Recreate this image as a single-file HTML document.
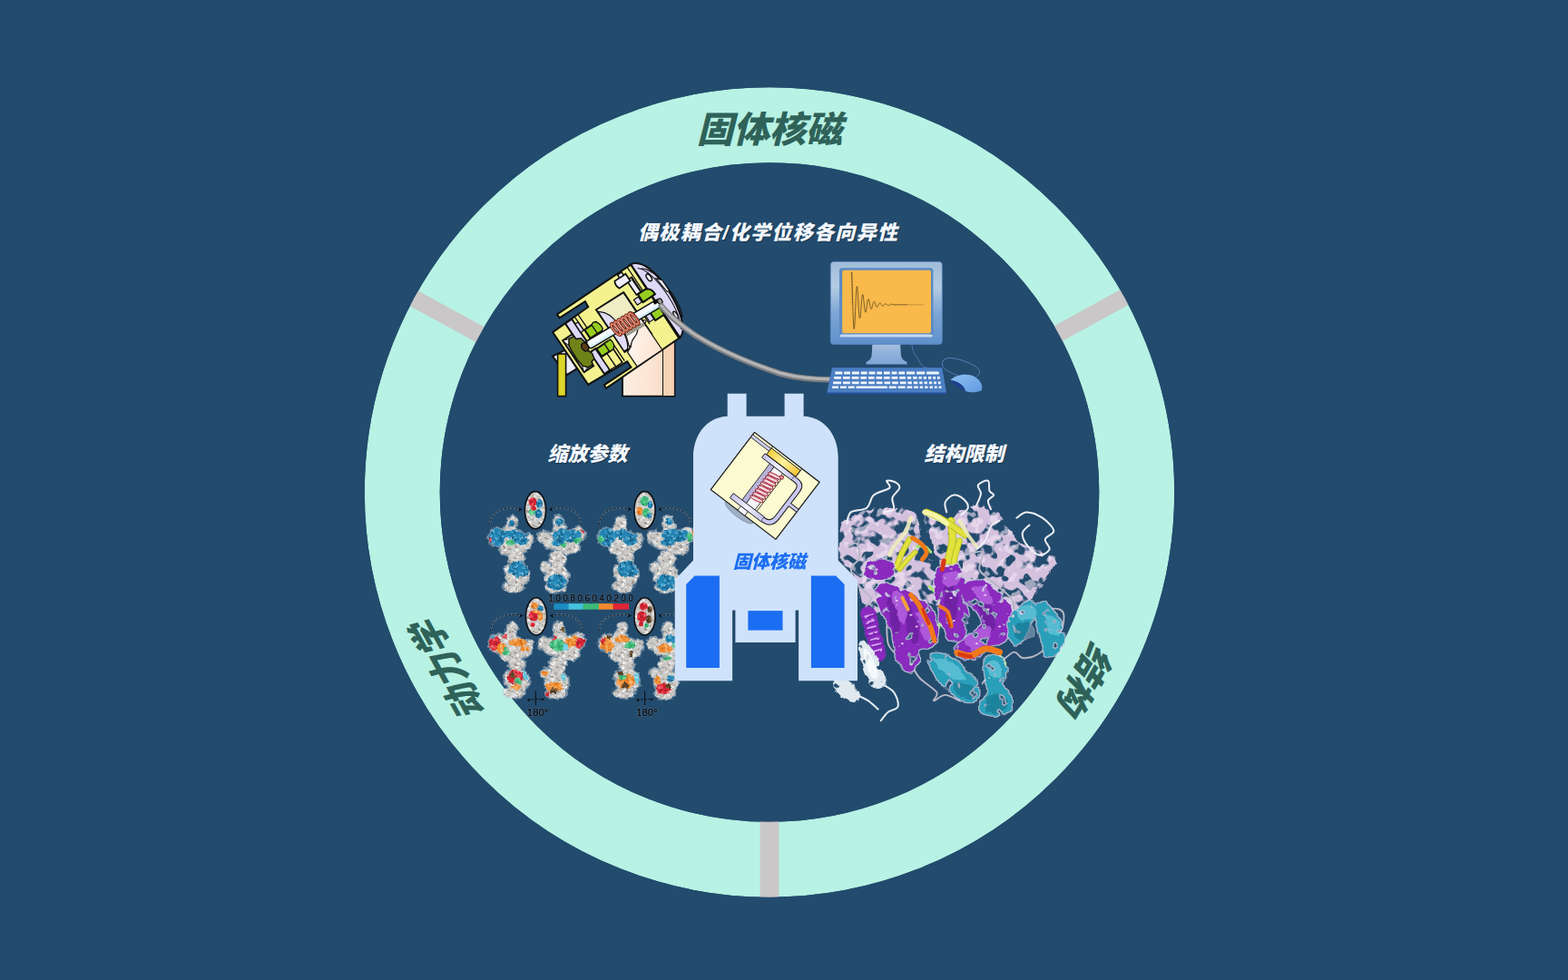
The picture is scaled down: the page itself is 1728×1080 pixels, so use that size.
<!DOCTYPE html>
<html><head><meta charset="utf-8"><title>Solid-state NMR</title>
<style>html,body{margin:0;padding:0;background:#234b6d;overflow:hidden;font-family:"Liberation Sans",sans-serif}svg{display:block}</style>
</head><body>
<svg width="1728" height="1080" viewBox="0 0 1728 1080">
<defs><linearGradient id="gGold" x1="0" x2="1" y1="0" y2="0"><stop offset="0" stop-color="#f5cf3a"/><stop offset=".5" stop-color="#fff2a0"/><stop offset="1" stop-color="#f2c230"/></linearGradient><linearGradient id="gLav" x1="0" x2="1" y1="0" y2="0"><stop offset="0" stop-color="#c4c2ec"/><stop offset=".5" stop-color="#f0f0fd"/><stop offset="1" stop-color="#c4c2ec"/></linearGradient><linearGradient id="gPeach" x1="0" x2="1"><stop offset="0" stop-color="#fdeee2"/><stop offset=".6" stop-color="#fbe3d1"/><stop offset="1" stop-color="#f7d6bb"/></linearGradient><linearGradient id="gPeach2" x1="0" x2="1" y1="0" y2="1"><stop offset="0" stop-color="#fffaf6"/><stop offset="1" stop-color="#fbe1cd"/></linearGradient><linearGradient id="gRotor" x1="0" x2="0" y1="0" y2="1"><stop offset="0" stop-color="#ffffff"/><stop offset=".55" stop-color="#f4fbff"/><stop offset="1" stop-color="#bfe4f2"/></linearGradient><pattern id="gHatch" width="1.6" height="4" patternUnits="userSpaceOnUse" patternTransform="rotate(4)"><rect width="1.6" height="4" fill="#d2d2c0"/><rect width=".75" height="4" fill="#5f5f55"/></pattern><linearGradient id="gMon" x1="0" x2="0" y1="0" y2="1"><stop offset="0" stop-color="#9fbcd8"/><stop offset=".3" stop-color="#b4cce3"/><stop offset=".62" stop-color="#7ea6d6"/><stop offset="1" stop-color="#5f90cb"/></linearGradient><linearGradient id="gStand" x1="0" x2="0" y1="0" y2="1"><stop offset="0" stop-color="#a9c2de"/><stop offset=".5" stop-color="#8fb0da"/><stop offset="1" stop-color="#7fa6d8"/></linearGradient><linearGradient id="gMouse" x1="0" x2="1" y1="0" y2="1"><stop offset="0" stop-color="#8fc0f2"/><stop offset="1" stop-color="#5f9ae0"/></linearGradient><pattern id="pw" width="13" height="13" patternUnits="userSpaceOnUse"><rect width="13" height="13" fill="#c9c7c4"/><circle cx="3.1" cy="7.1" r="1.2" fill="#9f9a95"/><circle cx="6.2" cy="7.6" r="1.4" fill="#c2c6cc"/><circle cx="6.1" cy="7.2" r="1.1" fill="#dddbd8"/><circle cx="6.1" cy="10.9" r="1.3" fill="#dddbd8"/><circle cx="-1.8" cy="3.0" r="1.0" fill="#9f9a95"/><circle cx="11.2" cy="3.0" r="1.0" fill="#9f9a95"/><circle cx="5.1" cy="0.2" r="1.5" fill="#d6d4d1"/><circle cx="5.1" cy="13.2" r="1.5" fill="#d6d4d1"/><circle cx="9.9" cy="7.7" r="1.1" fill="#e9e8e6"/><circle cx="10.7" cy="3.5" r="1.4" fill="#f6f6f5"/><circle cx="9.3" cy="-1.0" r="1.2" fill="#c2c6cc"/><circle cx="9.3" cy="12.0" r="1.2" fill="#c2c6cc"/><circle cx="7.5" cy="-0.5" r="1.0" fill="#b3afaa"/><circle cx="7.5" cy="12.5" r="1.0" fill="#b3afaa"/><circle cx="1.3" cy="1.8" r="1.1" fill="#dddbd8"/><circle cx="1.3" cy="14.8" r="1.1" fill="#dddbd8"/><circle cx="14.3" cy="1.8" r="1.1" fill="#dddbd8"/><circle cx="14.3" cy="14.8" r="1.1" fill="#dddbd8"/><circle cx="5.7" cy="8.1" r="1.1" fill="#9f9a95"/><circle cx="10.8" cy="7.5" r="1.3" fill="#f6f6f5"/><circle cx="7.6" cy="-1.2" r="1.4" fill="#e9e8e6"/><circle cx="7.6" cy="11.8" r="1.4" fill="#e9e8e6"/><circle cx="-1.9" cy="-0.1" r="1.4" fill="#d6d4d1"/><circle cx="-1.9" cy="12.9" r="1.4" fill="#d6d4d1"/><circle cx="11.1" cy="-0.1" r="1.4" fill="#d6d4d1"/><circle cx="11.1" cy="12.9" r="1.4" fill="#d6d4d1"/><circle cx="9.1" cy="4.2" r="1.3" fill="#9f9a95"/><circle cx="7.4" cy="9.3" r="1.1" fill="#c2c6cc"/><circle cx="-0.2" cy="3.5" r="1.0" fill="#f6f6f5"/><circle cx="12.8" cy="3.5" r="1.0" fill="#f6f6f5"/><circle cx="-1.9" cy="-0.1" r="1.0" fill="#c2c6cc"/><circle cx="-1.9" cy="12.9" r="1.0" fill="#c2c6cc"/><circle cx="11.1" cy="-0.1" r="1.0" fill="#c2c6cc"/><circle cx="11.1" cy="12.9" r="1.0" fill="#c2c6cc"/><circle cx="0.9" cy="-1.3" r="0.9" fill="#f6f6f5"/><circle cx="0.9" cy="11.7" r="0.9" fill="#f6f6f5"/><circle cx="13.9" cy="-1.3" r="0.9" fill="#f6f6f5"/><circle cx="13.9" cy="11.7" r="0.9" fill="#f6f6f5"/><circle cx="10.0" cy="-1.7" r="0.9" fill="#9f9a95"/><circle cx="10.0" cy="11.3" r="0.9" fill="#9f9a95"/><circle cx="9.9" cy="4.9" r="1.4" fill="#9f9a95"/><circle cx="-1.5" cy="-0.3" r="1.3" fill="#e9e8e6"/><circle cx="-1.5" cy="12.7" r="1.3" fill="#e9e8e6"/><circle cx="11.5" cy="-0.3" r="1.3" fill="#e9e8e6"/><circle cx="11.5" cy="12.7" r="1.3" fill="#e9e8e6"/><circle cx="4.0" cy="1.0" r="1.4" fill="#e9e8e6"/><circle cx="4.0" cy="14.0" r="1.4" fill="#e9e8e6"/><circle cx="-0.7" cy="-0.4" r="1.1" fill="#b3afaa"/><circle cx="-0.7" cy="12.6" r="1.1" fill="#b3afaa"/><circle cx="12.3" cy="-0.4" r="1.1" fill="#b3afaa"/><circle cx="12.3" cy="12.6" r="1.1" fill="#b3afaa"/><circle cx="2.0" cy="0.6" r="1.6" fill="#b3afaa"/><circle cx="2.0" cy="13.6" r="1.6" fill="#b3afaa"/></pattern><pattern id="pb" width="13" height="13" patternUnits="userSpaceOnUse"><rect width="13" height="13" fill="#2484b3"/><circle cx="4.7" cy="1.8" r="1.6" fill="#1f7dac"/><circle cx="4.7" cy="14.8" r="1.6" fill="#1f7dac"/><circle cx="6.0" cy="6.8" r="1.4" fill="#125c85"/><circle cx="8.9" cy="1.3" r="1.7" fill="#125c85"/><circle cx="8.9" cy="14.3" r="1.7" fill="#125c85"/><circle cx="3.5" cy="8.2" r="1.5" fill="#58aed4"/><circle cx="5.7" cy="3.4" r="1.1" fill="#58aed4"/><circle cx="0.1" cy="5.4" r="1.4" fill="#3596c4"/><circle cx="13.1" cy="5.4" r="1.4" fill="#3596c4"/><circle cx="4.9" cy="7.7" r="1.0" fill="#9cc4d8"/><circle cx="8.2" cy="6.1" r="1.4" fill="#58aed4"/><circle cx="7.9" cy="3.6" r="1.3" fill="#125c85"/><circle cx="0.8" cy="8.8" r="1.7" fill="#58aed4"/><circle cx="13.8" cy="8.8" r="1.7" fill="#58aed4"/><circle cx="8.2" cy="3.9" r="1.4" fill="#176d99"/><circle cx="4.7" cy="4.1" r="1.2" fill="#125c85"/><circle cx="3.4" cy="10.2" r="1.0" fill="#3596c4"/><circle cx="-0.4" cy="8.9" r="1.0" fill="#125c85"/><circle cx="12.6" cy="8.9" r="1.0" fill="#125c85"/><circle cx="2.9" cy="10.4" r="1.1" fill="#176d99"/><circle cx="8.8" cy="8.4" r="1.0" fill="#125c85"/><circle cx="4.2" cy="4.3" r="1.6" fill="#1f7dac"/><circle cx="10.5" cy="-0.5" r="1.0" fill="#9cc4d8"/><circle cx="10.5" cy="12.5" r="1.0" fill="#9cc4d8"/><circle cx="8.5" cy="-1.5" r="1.3" fill="#176d99"/><circle cx="8.5" cy="11.5" r="1.3" fill="#176d99"/><circle cx="10.2" cy="0.4" r="1.7" fill="#58aed4"/><circle cx="10.2" cy="13.4" r="1.7" fill="#58aed4"/><circle cx="10.5" cy="10.9" r="1.0" fill="#58aed4"/><circle cx="4.4" cy="10.8" r="1.0" fill="#125c85"/><circle cx="4.5" cy="1.7" r="1.1" fill="#58aed4"/><circle cx="4.5" cy="14.7" r="1.1" fill="#58aed4"/><circle cx="6.0" cy="8.2" r="1.1" fill="#125c85"/><circle cx="5.3" cy="-1.0" r="1.0" fill="#3596c4"/><circle cx="5.3" cy="12.0" r="1.0" fill="#3596c4"/><circle cx="6.2" cy="10.8" r="1.4" fill="#125c85"/></pattern><pattern id="pc" width="13" height="13" patternUnits="userSpaceOnUse"><rect width="13" height="13" fill="#4fc3da"/><circle cx="5.6" cy="-0.6" r="1.6" fill="#7ad6e6"/><circle cx="5.6" cy="12.4" r="1.6" fill="#7ad6e6"/><circle cx="0.4" cy="5.9" r="1.5" fill="#9fe3ee"/><circle cx="13.4" cy="5.9" r="1.5" fill="#9fe3ee"/><circle cx="6.7" cy="3.8" r="1.2" fill="#7ad6e6"/><circle cx="-1.8" cy="-1.8" r="1.7" fill="#7ad6e6"/><circle cx="-1.8" cy="11.2" r="1.7" fill="#7ad6e6"/><circle cx="11.2" cy="-1.8" r="1.7" fill="#7ad6e6"/><circle cx="11.2" cy="11.2" r="1.7" fill="#7ad6e6"/><circle cx="10.5" cy="0.6" r="1.6" fill="#9fe3ee"/><circle cx="10.5" cy="13.6" r="1.6" fill="#9fe3ee"/><circle cx="6.7" cy="2.6" r="1.6" fill="#3bb4cf"/><circle cx="7.5" cy="0.2" r="1.5" fill="#7ad6e6"/><circle cx="7.5" cy="13.2" r="1.5" fill="#7ad6e6"/><circle cx="6.5" cy="3.1" r="0.9" fill="#9fe3ee"/><circle cx="5.4" cy="-0.8" r="1.4" fill="#3bb4cf"/><circle cx="5.4" cy="12.2" r="1.4" fill="#3bb4cf"/><circle cx="1.6" cy="-0.4" r="1.3" fill="#7ad6e6"/><circle cx="1.6" cy="12.6" r="1.3" fill="#7ad6e6"/><circle cx="14.6" cy="-0.4" r="1.3" fill="#7ad6e6"/><circle cx="14.6" cy="12.6" r="1.3" fill="#7ad6e6"/><circle cx="4.6" cy="2.6" r="1.3" fill="#7ad6e6"/><circle cx="2.2" cy="10.3" r="1.6" fill="#7ad6e6"/><circle cx="10.7" cy="0.1" r="1.4" fill="#3bb4cf"/><circle cx="10.7" cy="13.1" r="1.4" fill="#3bb4cf"/><circle cx="0.6" cy="3.5" r="1.1" fill="#9fe3ee"/><circle cx="13.6" cy="3.5" r="1.1" fill="#9fe3ee"/><circle cx="6.8" cy="0.7" r="1.2" fill="#7ad6e6"/><circle cx="6.8" cy="13.7" r="1.2" fill="#7ad6e6"/><circle cx="-1.9" cy="10.1" r="0.9" fill="#7ad6e6"/><circle cx="11.1" cy="10.1" r="0.9" fill="#7ad6e6"/><circle cx="0.9" cy="-0.3" r="1.6" fill="#7ad6e6"/><circle cx="0.9" cy="12.7" r="1.6" fill="#7ad6e6"/><circle cx="13.9" cy="-0.3" r="1.6" fill="#7ad6e6"/><circle cx="13.9" cy="12.7" r="1.6" fill="#7ad6e6"/><circle cx="6.7" cy="6.4" r="1.0" fill="#7ad6e6"/><circle cx="4.6" cy="8.4" r="1.4" fill="#3bb4cf"/><circle cx="3.4" cy="-0.2" r="1.2" fill="#7ad6e6"/><circle cx="3.4" cy="12.8" r="1.2" fill="#7ad6e6"/><circle cx="7.2" cy="9.3" r="1.2" fill="#7ad6e6"/><circle cx="7.4" cy="0.6" r="1.3" fill="#9fe3ee"/><circle cx="7.4" cy="13.6" r="1.3" fill="#9fe3ee"/><circle cx="10.2" cy="4.9" r="1.5" fill="#9fe3ee"/><circle cx="-1.5" cy="0.7" r="1.4" fill="#9fe3ee"/><circle cx="-1.5" cy="13.7" r="1.4" fill="#9fe3ee"/><circle cx="11.5" cy="0.7" r="1.4" fill="#9fe3ee"/><circle cx="11.5" cy="13.7" r="1.4" fill="#9fe3ee"/><circle cx="4.1" cy="-0.6" r="1.2" fill="#7ad6e6"/><circle cx="4.1" cy="12.4" r="1.2" fill="#7ad6e6"/><circle cx="3.2" cy="7.0" r="1.5" fill="#7ad6e6"/></pattern><pattern id="pg" width="13" height="13" patternUnits="userSpaceOnUse"><rect width="13" height="13" fill="#39b474"/><circle cx="10.4" cy="2.9" r="1.0" fill="#55c98a"/><circle cx="-0.8" cy="4.9" r="1.6" fill="#279a5e"/><circle cx="12.2" cy="4.9" r="1.6" fill="#279a5e"/><circle cx="1.6" cy="9.0" r="1.7" fill="#7ad9a4"/><circle cx="14.6" cy="9.0" r="1.7" fill="#7ad9a4"/><circle cx="8.6" cy="-1.5" r="1.5" fill="#7ad9a4"/><circle cx="8.6" cy="11.5" r="1.5" fill="#7ad9a4"/><circle cx="1.4" cy="4.1" r="1.3" fill="#7ad9a4"/><circle cx="14.4" cy="4.1" r="1.3" fill="#7ad9a4"/><circle cx="9.3" cy="6.2" r="1.1" fill="#279a5e"/><circle cx="0.6" cy="1.2" r="1.0" fill="#279a5e"/><circle cx="0.6" cy="14.2" r="1.0" fill="#279a5e"/><circle cx="13.6" cy="1.2" r="1.0" fill="#279a5e"/><circle cx="13.6" cy="14.2" r="1.0" fill="#279a5e"/><circle cx="2.3" cy="0.3" r="1.6" fill="#55c98a"/><circle cx="2.3" cy="13.3" r="1.6" fill="#55c98a"/><circle cx="0.3" cy="1.5" r="1.3" fill="#7ad9a4"/><circle cx="0.3" cy="14.5" r="1.3" fill="#7ad9a4"/><circle cx="13.3" cy="1.5" r="1.3" fill="#7ad9a4"/><circle cx="13.3" cy="14.5" r="1.3" fill="#7ad9a4"/><circle cx="-0.6" cy="7.5" r="1.5" fill="#55c98a"/><circle cx="12.4" cy="7.5" r="1.5" fill="#55c98a"/><circle cx="-0.0" cy="7.3" r="1.3" fill="#55c98a"/><circle cx="13.0" cy="7.3" r="1.3" fill="#55c98a"/><circle cx="1.4" cy="9.7" r="1.6" fill="#55c98a"/><circle cx="14.4" cy="9.7" r="1.6" fill="#55c98a"/><circle cx="7.2" cy="-1.7" r="1.0" fill="#55c98a"/><circle cx="7.2" cy="11.3" r="1.0" fill="#55c98a"/><circle cx="3.1" cy="2.3" r="1.1" fill="#7ad9a4"/><circle cx="9.1" cy="-0.7" r="1.1" fill="#7ad9a4"/><circle cx="9.1" cy="12.3" r="1.1" fill="#7ad9a4"/><circle cx="5.2" cy="4.6" r="1.2" fill="#55c98a"/><circle cx="4.9" cy="3.1" r="1.6" fill="#7ad9a4"/><circle cx="-0.4" cy="5.4" r="1.4" fill="#7ad9a4"/><circle cx="12.6" cy="5.4" r="1.4" fill="#7ad9a4"/><circle cx="8.8" cy="6.7" r="1.3" fill="#7ad9a4"/><circle cx="5.2" cy="-1.5" r="1.0" fill="#279a5e"/><circle cx="5.2" cy="11.5" r="1.0" fill="#279a5e"/><circle cx="9.7" cy="-1.1" r="1.3" fill="#279a5e"/><circle cx="9.7" cy="11.9" r="1.3" fill="#279a5e"/><circle cx="7.6" cy="-1.8" r="1.0" fill="#55c98a"/><circle cx="7.6" cy="11.2" r="1.0" fill="#55c98a"/><circle cx="1.9" cy="6.7" r="1.6" fill="#7ad9a4"/><circle cx="14.9" cy="6.7" r="1.6" fill="#7ad9a4"/><circle cx="7.0" cy="10.1" r="1.4" fill="#279a5e"/><circle cx="7.7" cy="7.6" r="1.7" fill="#55c98a"/><circle cx="4.0" cy="3.5" r="1.5" fill="#55c98a"/></pattern><pattern id="po" width="13" height="13" patternUnits="userSpaceOnUse"><rect width="13" height="13" fill="#ee8a2e"/><circle cx="2.2" cy="4.7" r="1.2" fill="#f5a24d"/><circle cx="5.4" cy="9.1" r="1.5" fill="#f5a24d"/><circle cx="6.1" cy="10.8" r="1.6" fill="#f9b872"/><circle cx="0.4" cy="-0.1" r="1.0" fill="#d9701c"/><circle cx="0.4" cy="12.9" r="1.0" fill="#d9701c"/><circle cx="13.4" cy="-0.1" r="1.0" fill="#d9701c"/><circle cx="13.4" cy="12.9" r="1.0" fill="#d9701c"/><circle cx="10.2" cy="-1.5" r="0.9" fill="#f5a24d"/><circle cx="10.2" cy="11.5" r="0.9" fill="#f5a24d"/><circle cx="-1.4" cy="8.4" r="1.5" fill="#f5a24d"/><circle cx="11.6" cy="8.4" r="1.5" fill="#f5a24d"/><circle cx="-0.5" cy="-1.9" r="1.1" fill="#f5a24d"/><circle cx="-0.5" cy="11.1" r="1.1" fill="#f5a24d"/><circle cx="12.5" cy="-1.9" r="1.1" fill="#f5a24d"/><circle cx="12.5" cy="11.1" r="1.1" fill="#f5a24d"/><circle cx="10.1" cy="1.8" r="1.4" fill="#f9b872"/><circle cx="10.1" cy="14.8" r="1.4" fill="#f9b872"/><circle cx="-1.8" cy="-1.3" r="1.1" fill="#f5a24d"/><circle cx="-1.8" cy="11.7" r="1.1" fill="#f5a24d"/><circle cx="11.2" cy="-1.3" r="1.1" fill="#f5a24d"/><circle cx="11.2" cy="11.7" r="1.1" fill="#f5a24d"/><circle cx="4.1" cy="5.5" r="1.5" fill="#f5a24d"/><circle cx="1.5" cy="3.4" r="1.6" fill="#f5a24d"/><circle cx="14.5" cy="3.4" r="1.6" fill="#f5a24d"/><circle cx="4.6" cy="7.5" r="1.4" fill="#f5a24d"/><circle cx="0.4" cy="4.3" r="1.2" fill="#f5a24d"/><circle cx="13.4" cy="4.3" r="1.2" fill="#f5a24d"/><circle cx="2.7" cy="7.6" r="1.7" fill="#d9701c"/><circle cx="1.6" cy="4.1" r="1.6" fill="#f5a24d"/><circle cx="14.6" cy="4.1" r="1.6" fill="#f5a24d"/><circle cx="8.7" cy="1.5" r="1.6" fill="#d9701c"/><circle cx="8.7" cy="14.5" r="1.6" fill="#d9701c"/><circle cx="1.3" cy="-0.8" r="1.2" fill="#d9701c"/><circle cx="1.3" cy="12.2" r="1.2" fill="#d9701c"/><circle cx="14.3" cy="-0.8" r="1.2" fill="#d9701c"/><circle cx="14.3" cy="12.2" r="1.2" fill="#d9701c"/><circle cx="9.8" cy="3.8" r="1.4" fill="#f9b872"/><circle cx="-0.7" cy="10.6" r="1.0" fill="#d9701c"/><circle cx="12.3" cy="10.6" r="1.0" fill="#d9701c"/><circle cx="8.7" cy="7.0" r="1.0" fill="#d9701c"/><circle cx="6.6" cy="0.8" r="1.1" fill="#f9b872"/><circle cx="6.6" cy="13.8" r="1.1" fill="#f9b872"/><circle cx="7.4" cy="2.4" r="1.4" fill="#f9b872"/><circle cx="1.9" cy="4.8" r="1.6" fill="#d9701c"/><circle cx="14.9" cy="4.8" r="1.6" fill="#d9701c"/><circle cx="1.6" cy="-0.9" r="1.0" fill="#d9701c"/><circle cx="1.6" cy="12.1" r="1.0" fill="#d9701c"/><circle cx="14.6" cy="-0.9" r="1.0" fill="#d9701c"/><circle cx="14.6" cy="12.1" r="1.0" fill="#d9701c"/><circle cx="8.4" cy="8.4" r="1.2" fill="#d9701c"/><circle cx="8.4" cy="6.0" r="1.1" fill="#f5a24d"/></pattern><pattern id="pr" width="13" height="13" patternUnits="userSpaceOnUse"><rect width="13" height="13" fill="#d92635"/><circle cx="9.2" cy="1.4" r="1.0" fill="#f06a72"/><circle cx="9.2" cy="14.4" r="1.0" fill="#f06a72"/><circle cx="7.1" cy="9.6" r="1.2" fill="#b81c2a"/><circle cx="3.5" cy="0.7" r="1.0" fill="#b81c2a"/><circle cx="3.5" cy="13.7" r="1.0" fill="#b81c2a"/><circle cx="6.6" cy="3.2" r="1.5" fill="#b81c2a"/><circle cx="-1.6" cy="-0.7" r="1.3" fill="#ee4450"/><circle cx="-1.6" cy="12.3" r="1.3" fill="#ee4450"/><circle cx="11.4" cy="-0.7" r="1.3" fill="#ee4450"/><circle cx="11.4" cy="12.3" r="1.3" fill="#ee4450"/><circle cx="4.6" cy="-2.0" r="1.0" fill="#b81c2a"/><circle cx="4.6" cy="11.0" r="1.0" fill="#b81c2a"/><circle cx="7.7" cy="8.9" r="1.4" fill="#f06a72"/><circle cx="1.5" cy="9.1" r="1.4" fill="#f06a72"/><circle cx="14.5" cy="9.1" r="1.4" fill="#f06a72"/><circle cx="9.7" cy="10.6" r="1.5" fill="#f06a72"/><circle cx="7.9" cy="-1.8" r="1.5" fill="#f06a72"/><circle cx="7.9" cy="11.2" r="1.5" fill="#f06a72"/><circle cx="6.9" cy="7.4" r="1.1" fill="#b81c2a"/><circle cx="4.8" cy="3.8" r="1.6" fill="#b81c2a"/><circle cx="-1.4" cy="-0.7" r="1.2" fill="#f06a72"/><circle cx="-1.4" cy="12.3" r="1.2" fill="#f06a72"/><circle cx="11.6" cy="-0.7" r="1.2" fill="#f06a72"/><circle cx="11.6" cy="12.3" r="1.2" fill="#f06a72"/><circle cx="-1.2" cy="4.0" r="1.3" fill="#f06a72"/><circle cx="11.8" cy="4.0" r="1.3" fill="#f06a72"/><circle cx="8.9" cy="3.9" r="1.6" fill="#b81c2a"/><circle cx="0.4" cy="2.5" r="1.4" fill="#ee4450"/><circle cx="13.4" cy="2.5" r="1.4" fill="#ee4450"/><circle cx="10.0" cy="8.6" r="1.3" fill="#f06a72"/><circle cx="8.1" cy="2.6" r="1.5" fill="#ee4450"/><circle cx="0.5" cy="6.5" r="1.4" fill="#b81c2a"/><circle cx="13.5" cy="6.5" r="1.4" fill="#b81c2a"/><circle cx="1.5" cy="3.7" r="1.4" fill="#ee4450"/><circle cx="14.5" cy="3.7" r="1.4" fill="#ee4450"/><circle cx="1.8" cy="10.3" r="1.4" fill="#ee4450"/><circle cx="14.8" cy="10.3" r="1.4" fill="#ee4450"/><circle cx="0.3" cy="8.0" r="1.3" fill="#b81c2a"/><circle cx="13.3" cy="8.0" r="1.3" fill="#b81c2a"/><circle cx="7.0" cy="-0.9" r="1.2" fill="#b81c2a"/><circle cx="7.0" cy="12.1" r="1.2" fill="#b81c2a"/><circle cx="9.0" cy="1.7" r="1.6" fill="#f06a72"/><circle cx="9.0" cy="14.7" r="1.6" fill="#f06a72"/><circle cx="10.1" cy="0.4" r="1.0" fill="#b81c2a"/><circle cx="10.1" cy="13.4" r="1.0" fill="#b81c2a"/><circle cx="-0.0" cy="2.7" r="1.0" fill="#ee4450"/><circle cx="13.0" cy="2.7" r="1.0" fill="#ee4450"/></pattern><pattern id="pk" width="13" height="13" patternUnits="userSpaceOnUse"><rect width="13" height="13" fill="#5b4226"/><circle cx="5.7" cy="9.8" r="1.3" fill="#6b4a2a"/><circle cx="10.2" cy="5.3" r="1.6" fill="#8a6a3e"/><circle cx="2.1" cy="6.5" r="1.5" fill="#8a6a3e"/><circle cx="-1.9" cy="2.7" r="1.3" fill="#6b4a2a"/><circle cx="11.1" cy="2.7" r="1.3" fill="#6b4a2a"/><circle cx="6.0" cy="9.8" r="1.2" fill="#6b4a2a"/><circle cx="5.9" cy="0.5" r="1.1" fill="#3d3326"/><circle cx="5.9" cy="13.5" r="1.1" fill="#3d3326"/><circle cx="5.8" cy="4.7" r="1.2" fill="#6b4a2a"/><circle cx="10.5" cy="3.4" r="1.2" fill="#3d3326"/><circle cx="6.9" cy="2.1" r="0.9" fill="#8a6a3e"/><circle cx="5.2" cy="2.2" r="0.9" fill="#6b4a2a"/><circle cx="7.9" cy="5.8" r="1.0" fill="#6b4a2a"/><circle cx="5.2" cy="4.1" r="0.9" fill="#8a6a3e"/><circle cx="0.7" cy="5.2" r="1.2" fill="#6b4a2a"/><circle cx="13.7" cy="5.2" r="1.2" fill="#6b4a2a"/><circle cx="-1.2" cy="-1.5" r="1.1" fill="#3d3326"/><circle cx="-1.2" cy="11.5" r="1.1" fill="#3d3326"/><circle cx="11.8" cy="-1.5" r="1.1" fill="#3d3326"/><circle cx="11.8" cy="11.5" r="1.1" fill="#3d3326"/><circle cx="6.2" cy="2.1" r="1.4" fill="#3d3326"/><circle cx="-1.1" cy="7.7" r="1.5" fill="#3d3326"/><circle cx="11.9" cy="7.7" r="1.5" fill="#3d3326"/><circle cx="3.6" cy="10.2" r="1.3" fill="#3d3326"/><circle cx="6.4" cy="7.3" r="0.9" fill="#3d3326"/><circle cx="8.2" cy="4.5" r="1.0" fill="#8a6a3e"/><circle cx="5.7" cy="1.2" r="1.4" fill="#6b4a2a"/><circle cx="5.7" cy="14.2" r="1.4" fill="#6b4a2a"/><circle cx="0.4" cy="1.2" r="1.0" fill="#6b4a2a"/><circle cx="0.4" cy="14.2" r="1.0" fill="#6b4a2a"/><circle cx="13.4" cy="1.2" r="1.0" fill="#6b4a2a"/><circle cx="13.4" cy="14.2" r="1.0" fill="#6b4a2a"/><circle cx="6.3" cy="2.5" r="1.3" fill="#3d3326"/><circle cx="2.6" cy="-0.3" r="1.3" fill="#3d3326"/><circle cx="2.6" cy="12.7" r="1.3" fill="#3d3326"/><circle cx="-1.1" cy="-0.8" r="0.9" fill="#3d3326"/><circle cx="-1.1" cy="12.2" r="0.9" fill="#3d3326"/><circle cx="11.9" cy="-0.8" r="0.9" fill="#3d3326"/><circle cx="11.9" cy="12.2" r="0.9" fill="#3d3326"/><circle cx="9.8" cy="8.2" r="1.2" fill="#3d3326"/><circle cx="2.4" cy="5.4" r="1.3" fill="#8a6a3e"/></pattern><filter id="rough" x="-5%" y="-5%" width="110%" height="110%"><feTurbulence type="fractalNoise" baseFrequency=".22" numOctaves="2" seed="4" result="n"/><feDisplacementMap in="SourceGraphic" in2="n" scale="5" xChannelSelector="R" yChannelSelector="G"/></filter><filter id="halo" x="-5%" y="-5%" width="110%" height="110%"><feMorphology in="SourceAlpha" operator="dilate" radius="1.1" result="o"/><feFlood flood-color="#d4d9ea" flood-opacity=".75"/><feComposite in2="o" operator="in" result="ol"/><feMerge><feMergeNode in="ol"/><feMergeNode in="SourceGraphic"/></feMerge></filter><filter id="holey" x="-5%" y="-5%" width="110%" height="110%"><feTurbulence type="fractalNoise" baseFrequency=".08" numOctaves="2" seed="11" result="n"/><feColorMatrix in="n" type="matrix" values="0 0 0 0 0 0 0 0 0 0 0 0 0 0 0 -11 0 0 0 6.55" result="m"/><feDisplacementMap in="SourceGraphic" in2="n" scale="9" xChannelSelector="G" yChannelSelector="B" result="d"/><feComposite in="d" in2="m" operator="in" result="c"/><feGaussianBlur in="c" stdDeviation=".45"/></filter><filter id="holey2" x="-5%" y="-5%" width="110%" height="110%"><feTurbulence type="fractalNoise" baseFrequency=".1" numOctaves="2" seed="5" result="n"/><feColorMatrix in="n" type="matrix" values="0 0 0 0 0 0 0 0 0 0 0 0 0 0 0 -11 0 0 0 5.1" result="m"/><feDisplacementMap in="SourceGraphic" in2="n" scale="9" xChannelSelector="G" yChannelSelector="B" result="d"/><feComposite in="d" in2="m" operator="in" result="c"/><feGaussianBlur in="c" stdDeviation=".45"/></filter><filter id="holey3" x="-5%" y="-5%" width="110%" height="110%"><feTurbulence type="fractalNoise" baseFrequency=".1" numOctaves="2" seed="21" result="n"/><feColorMatrix in="n" type="matrix" values="0 0 0 0 0 0 0 0 0 0 0 0 0 0 0 -11 0 0 0 7.85" result="m"/><feDisplacementMap in="SourceGraphic" in2="n" scale="6" xChannelSelector="G" yChannelSelector="B" result="d"/><feComposite in="d" in2="m" operator="in" result="c"/><feGaussianBlur in="c" stdDeviation=".45"/></filter><filter id="rough2" x="-80%" y="-20%" width="260%" height="140%"><feTurbulence type="fractalNoise" baseFrequency=".12" numOctaves="2" seed="9" result="n"/><feDisplacementMap in="SourceGraphic" in2="n" scale="3.2" xChannelSelector="R" yChannelSelector="G"/></filter></defs>
<rect width="1728" height="1080" fill="#234b6d"/>
<circle cx="848.0" cy="542.5" r="404.75" fill="none" stroke="#b7f2e4" stroke-width="82.90"/>
<rect x="362.3" y="-10.4" width="84.9" height="20.8" fill="#cac7c8" transform="translate(848.0 542.5) rotate(90)"/>
<rect x="362.3" y="-9.5" width="84.9" height="19" fill="#cac7c8" transform="translate(848.0 542.5) rotate(208.6)"/>
<rect x="362.3" y="-9.5" width="84.9" height="19" fill="#cac7c8" transform="translate(848.0 542.5) rotate(-28.8)"/>
<circle cx="848.0" cy="542.5" r="361.80" fill="none" stroke="#234b6d" stroke-width="3"/>
<circle cx="848.0" cy="542.5" r="447.70" fill="none" stroke="#234b6d" stroke-width="3"/>
<text transform="translate(848 542.5) rotate(241)" x="0" y="-390" text-anchor="middle" font-size="40" font-weight="900" font-style="italic" fill="#2f6259" style="font-family:'Liberation Sans','Noto Sans CJK SC',sans-serif">动力学</text>
<text transform="translate(848 542.5) rotate(120.5)" x="0" y="-390" text-anchor="middle" font-size="40" font-weight="900" font-style="italic" fill="#2f6259" style="font-family:'Liberation Sans','Noto Sans CJK SC',sans-serif">结构</text>
<text x="848" y="157" text-anchor="middle" font-size="40" font-weight="900" font-style="italic" fill="#2f6259" style="font-family:'Liberation Sans','Noto Sans CJK SC',sans-serif">固体核磁</text>
<text x="847.2" y="265.4" text-anchor="middle" font-size="22" font-weight="900" font-style="italic" textLength="286" lengthAdjust="spacing" fill="#10283f" opacity=".5" style="font-family:'Liberation Sans','Noto Sans CJK SC',sans-serif">偶极耦合/化学位移各向异性</text>
<text x="846" y="264" text-anchor="middle" font-size="22" font-weight="900" font-style="italic" textLength="286" lengthAdjust="spacing" fill="#f4f9ff" style="font-family:'Liberation Sans','Noto Sans CJK SC',sans-serif">偶极耦合/化学位移各向异性</text>
<text x="648.7" y="509.4" text-anchor="middle" font-size="22" font-weight="900" font-style="italic" fill="#10283f" opacity=".5" style="font-family:'Liberation Sans','Noto Sans CJK SC',sans-serif">缩放参数</text>
<text x="647.5" y="508" text-anchor="middle" font-size="22" font-weight="900" font-style="italic" fill="#f4f9ff" style="font-family:'Liberation Sans','Noto Sans CJK SC',sans-serif">缩放参数</text>
<text x="1063.6" y="509.4" text-anchor="middle" font-size="22" font-weight="900" font-style="italic" fill="#10283f" opacity=".5" style="font-family:'Liberation Sans','Noto Sans CJK SC',sans-serif">结构限制</text>
<text x="1062.4" y="508" text-anchor="middle" font-size="22" font-weight="900" font-style="italic" fill="#f4f9ff" style="font-family:'Liberation Sans','Noto Sans CJK SC',sans-serif">结构限制</text>
<g stroke="#111" stroke-width="1.89" stroke-linejoin="round"><path d="M686 411.5L696.5 405L705 380L720 352L743.4 372V436.6H686Z" fill="url(#gPeach)"/><path d="M730.5 384V436.6H743.4V374Z" fill="#f6d2b4" stroke-width="1"/></g><g transform="translate(687.5 357.1) rotate(-34)" stroke="#111" stroke-width="2.03" stroke-linejoin="miter"><path d="M-85 -14.5L-70 -12.6V12L-83.5 11.3Z" fill="#ecebfb"/><path d="M43 -50.3C70 -47 65 42 43 47Z" fill="#ddd9f7"/><path d="M50 -40C64 -30 66 12 58 30" fill="none" stroke-width="1.22"/><path d="M57.5 -22L62 -16.5V-2L59.5 -3Z" fill="#f1f0fc" stroke-width="1.08"/><path d="M47 -42.5C60 -32 62 18 49 40" fill="none" stroke-width="1.08"/><ellipse cx="51.6" cy="-27" rx="2.3" ry="4.4" fill="#f7f6ff" stroke-width="1.49"/><ellipse cx="53" cy="23.5" rx="1.7" ry="4.2" fill="#f7f6ff" stroke-width="1.49"/><path d="M-55 -50H43L41.6 47L-55.6 47.8V43.6L-20 43.9V36.2L-70 33.4V-36.4L-22 -37.6L-21.4 -44.6L-55 -45.2Z" fill="#f3f28f"/><path d="M-53.2 -36.6H-44.5V-7H-53.2Z" fill="#dcd8f6"/><path d="M-48.5 5H-41V33.6H-48.5Z" fill="#dcd8f6"/><path d="M-41 16H-33.5V33.6H-41ZM-33.5 16H-25V34H-33.5Z" fill="#f3f28f" stroke-width="1.35"/><path d="M-44.5 -30H-40.5V-19H-44.5Z" fill="#dcd8f6" stroke-width="1.22"/><path d="M-25 16.5V34M-22 5V34" fill="none" stroke-width="1.35"/><path d="M-40.5 -37V-19M-36 -37.2V-19" fill="none" stroke-width="1.35"/><path d="M-66 -22.5H-53.5V19.5H-66Z" fill="#fbfbe6"/><path d="M-66 -22.5L-59 -20L-63.5 -14ZM-66 19.5L-59.5 17.5L-63.5 12ZM-53.5 19.5L-55 17L-53.5 14Z" fill="#fff" stroke-width="0.94"/><path d="M-59 -20.5L-53.5 -19.5L-52.5 -15.5L-48 -13.5L-46.8 -7L-49 2L-47 7.5L-48.5 13.5L-52.5 14.5L-53.5 18L-59.5 17.6L-63.5 12.5L-64.6 3L-64.2 -8L-63.5 -14.2Z" fill="#6f8218" stroke-width="1.49"/><ellipse cx="-49.6" cy="-2.9" rx="3.6" ry="4.9" fill="#5a3d14" stroke-width="1.49"/><path d="M-16.4 -30.2L19.3 -29.2V26H-16.4Z" fill="#eeedc3"/><path d="M-16 -27C-2 -20 -2 14 -12 25L-16.4 25Z" fill="#e0dcf7" stroke-width="1.22"/><path d="M-9 24C-4 10 -4 6 -3 4L19 3V26Z" fill="#fbf6f4" stroke-width="1.22"/><path d="M-7.5 25C-2 17 4 20 8 15C12 10 16 12 19.2 12V47.2H-14V28Z" fill="url(#gPeach2)" stroke-width="1.22"/><path d="M19.3 -29.2V16M23.5 3V16" fill="none" stroke-width="1.35"/><circle cx="20.6" cy="10.5" r="1.5" fill="#fff" stroke-width="1.08"/><path d="M24 -16H30V-9H24Z" fill="#dcd8f6" stroke-width="1.22"/><path d="M25 5.5H31V14H25Z" fill="#dcd8f6" stroke-width="1.22"/><path d="M29.5 -38H36V-19H29.5Z" fill="#efedfc" stroke-width="1.62"/><path d="M18 -44.8Q15.5 -40 18 -35.4H32.5V-44.8Z" fill="#efedfc" stroke-width="1.76"/><path d="M24.5 -48.6H30V-44.8H24.5Z" fill="#efedfc" stroke-width="1.49"/><path d="M35 -37V-19M38 -50V-19" fill="none" stroke-width="1.22"/><path d="M-39.5 -19H-24.2V-7.5H-39.5Z" fill="#97cd1f"/><path d="M-30 -19C-25 -23 -21 -17 -22 -9L-24.2 -7.5H-30Z" fill="#97cd1f" stroke-width="1.35"/><path d="M-40.2 5.8H-25V16.2H-40.2Z" fill="#97cd1f"/><path d="M-30 5.8H-22C-20 12 -23 16 -26 16.4H-30Z" fill="#97cd1f" stroke-width="1.35"/><path d="M31 -18.6H40Q47.5 -17 47 -8H31Z" fill="#97cd1f"/><path d="M31 5.6H43V16.2H31Z" fill="#97cd1f"/><path d="M-4 9L18.8 10.4V14.6L-4 13.2Z" fill="url(#gHatch)" stroke="none"/><g transform="rotate(3.3)"><rect x="-46" y="-4.7" width="92.5" height="9.4" rx="3" fill="url(#gRotor)" stroke-width="1.49"/><rect x="40" y="-4.6" width="4.6" height="3.6" fill="#000" stroke="none"/><ellipse cx="47" cy="-1.2" rx="2.5" ry="3.2" fill="#9a9a9a" stroke-width="1.22"/><g fill="none" stroke="#5e2012" stroke-width="3.6"><ellipse cx="-10.5" cy="0.6" rx="2.3" ry="7.8" transform="rotate(-9 -10.5 0)"/><ellipse cx="-5.9" cy="0.6" rx="2.3" ry="7.8" transform="rotate(-9 -5.9 0)"/><ellipse cx="-1.3" cy="0.6" rx="2.3" ry="7.8" transform="rotate(-9 -1.3 0)"/><ellipse cx="3.3" cy="0.6" rx="2.3" ry="7.8" transform="rotate(-9 3.3 0)"/><ellipse cx="7.9" cy="0.6" rx="2.3" ry="7.8" transform="rotate(-9 7.9 0)"/><ellipse cx="12.5" cy="0.6" rx="2.3" ry="7.8" transform="rotate(-9 12.5 0)"/></g><g fill="none" stroke="#b04a33" stroke-width="2.4"><ellipse cx="-10.5" cy="0.6" rx="2.3" ry="7.8" transform="rotate(-9 -10.5 0)"/><ellipse cx="-5.9" cy="0.6" rx="2.3" ry="7.8" transform="rotate(-9 -5.9 0)"/><ellipse cx="-1.3" cy="0.6" rx="2.3" ry="7.8" transform="rotate(-9 -1.3 0)"/><ellipse cx="3.3" cy="0.6" rx="2.3" ry="7.8" transform="rotate(-9 3.3 0)"/><ellipse cx="7.9" cy="0.6" rx="2.3" ry="7.8" transform="rotate(-9 7.9 0)"/><ellipse cx="12.5" cy="0.6" rx="2.3" ry="7.8" transform="rotate(-9 12.5 0)"/></g><g fill="none" stroke="#f3c3b3" stroke-width=".7" transform="translate(-.5 -.2)"><ellipse cx="-10.5" cy="0.6" rx="2.3" ry="7.8" transform="rotate(-9 -10.5 0)"/><ellipse cx="-5.9" cy="0.6" rx="2.3" ry="7.8" transform="rotate(-9 -5.9 0)"/><ellipse cx="-1.3" cy="0.6" rx="2.3" ry="7.8" transform="rotate(-9 -1.3 0)"/><ellipse cx="3.3" cy="0.6" rx="2.3" ry="7.8" transform="rotate(-9 3.3 0)"/><ellipse cx="7.9" cy="0.6" rx="2.3" ry="7.8" transform="rotate(-9 7.9 0)"/><ellipse cx="12.5" cy="0.6" rx="2.3" ry="7.8" transform="rotate(-9 12.5 0)"/></g></g></g><rect x="614.6" y="390" width="9" height="46.6" fill="#ddd62c" stroke="#111" stroke-width="1.62"/>
<path d="M729 337.5C736 346 752 361 770.6 372.3C800 390 830 402 860.8 412C880 417 900 418.4 917 418.4" fill="none" stroke="#7c7d80" stroke-width="6.6" stroke-linecap="round"/>
<path d="M729 337.5C736 346 752 361 770.6 372.3C800 390 830 402 860.8 412C880 417 900 418.4 917 418.4" fill="none" stroke="#b3b4b6" stroke-width="3.2" stroke-linecap="round" transform="translate(0 -.6)"/>
<path d="M1005 380C1006 392 1012 394 1014 400C1016 405 1020 405 1022 405" fill="none" stroke="#4f74ad" stroke-width="1"/><path d="M1056 414C1046 410 1036 406 1039 398C1043 391 1060 396 1072 402C1082 407 1081 412 1076 415" fill="none" stroke="#5b7fb8" stroke-width="1"/><path d="M961.5 378H992L993 392Q994 397 999.5 399V401.5H954.5V399Q960 397 960.6 392Z" fill="url(#gStand)"/><rect x="915.3" y="288.4" width="123" height="91" rx="3.5" fill="url(#gMon)" stroke="#5a86bf" stroke-width=".8"/><rect x="925" y="295.2" width="103.4" height="76.6" rx="3" fill="#5b8ac4"/><rect x="925.6" y="368.6" width="102.2" height="3" rx="1.5" fill="#cfe2f7" opacity=".9"/><rect x="928.2" y="297.8" width="97.8" height="69.4" rx="2" fill="#f9b94b"/><path d="M938.2 299.8 938.4 301.2 938.6 303.8 938.8 307.7 939.0 312.5 939.2 318.0 939.4 324.0 939.6 330.3 939.8 336.6 940.0 342.6 940.2 348.1 940.4 352.9 940.6 356.9 940.8 360.0 941.0 361.9 941.2 362.8 941.4 362.5 941.6 361.3 941.8 359.0 942.0 356.0 942.2 352.3 942.4 348.0 942.6 343.4 942.8 338.7 943.0 334.1 943.2 329.7 943.4 325.6 943.6 322.2 943.8 319.4 944.0 317.3 944.2 316.1 944.4 315.6 944.6 316.0 944.8 317.1 945.0 318.9 945.2 321.4 945.4 324.3 945.6 327.5 945.8 331.0 946.0 334.5 946.2 337.9 946.4 341.2 946.6 344.1 946.8 346.6 947.0 348.5 947.2 349.9 947.4 350.7 947.6 350.9 947.8 350.4 948.0 349.5 948.2 348.0 948.4 346.1 948.6 343.8 948.8 341.4 949.0 338.7 949.2 336.1 949.4 333.6 949.6 331.2 949.8 329.1 950.0 327.4 950.2 326.0 950.4 325.1 950.6 324.6 950.8 324.6 951.0 325.0 951.2 325.8 951.4 327.0 951.6 328.5 951.8 330.2 952.0 332.1 952.2 334.1 952.4 336.0 952.6 337.9 952.8 339.6 953.0 341.1 953.2 342.4 953.4 343.3 953.6 343.9 953.8 344.2 954.0 344.1 954.2 343.7 954.4 343.0 954.6 342.1 954.8 340.9 955.0 339.6 955.2 338.2 955.4 336.7 955.6 335.3 955.8 333.9 956.0 332.6 956.2 331.6 956.4 330.7 956.6 330.0 956.8 329.6 957.0 329.5 957.2 329.6 957.4 330.0 957.6 330.5 957.8 331.3 958.0 332.2 958.2 333.2 958.4 334.3 958.6 335.4 958.8 336.5 959.0 337.5 959.2 338.4 959.4 339.2 959.6 339.8 959.8 340.2 960.0 340.4 960.2 340.5 960.4 340.4 960.6 340.1 960.8 339.6 961.0 339.0 961.2 338.3 961.4 337.5 961.6 336.7 961.8 335.9 962.0 335.1 962.2 334.4 962.4 333.7 962.6 333.2 962.8 332.7 963.0 332.5 963.2 332.3 963.4 332.3 963.6 332.4 963.8 332.7 964.0 333.1 964.2 333.5 964.4 334.1 964.6 334.7 964.8 335.3 965.0 335.9 965.2 336.5 965.4 337.0 965.6 337.5 965.8 337.9 966.0 338.1 966.2 338.3 966.4 338.4 966.6 338.4 966.8 338.3 967.0 338.1 967.2 337.8 967.4 337.4 967.6 337.0 967.8 336.5 968.0 336.1 968.2 335.6 968.4 335.2 968.6 334.8 968.8 334.5 969.0 334.2 969.2 334.0 969.4 333.9 969.6 333.8 969.8 333.9 970.0 334.0 970.2 334.2 970.4 334.4 970.6 334.7 970.8 335.0 971.0 335.3 971.2 335.7 971.4 336.0 971.6 336.3 971.8 336.6 972.0 336.8 972.2 337.0 972.4 337.2 972.6 337.2 972.8 337.3 973.0 337.2 973.2 337.1 973.4 337.0 973.6 336.8 973.8 336.6 974.0 336.3 974.2 336.1 974.4 335.8 974.6 335.6 974.8 335.4 975.0 335.2 975.2 335.0 975.4 334.8 975.6 334.8 975.8 334.7 976.0 334.7 976.2 334.8 976.4 334.8 976.6 334.9 976.8 335.1 977.0 335.3 977.2 335.4 977.4 335.6 977.6 335.8 977.8 336.0 978.0 336.2 978.2 336.3 978.4 336.4 978.6 336.5 978.8 336.6 979.0 336.6 979.2 336.6 979.4 336.6 979.6 336.5 979.8 336.4 980.0 336.3 980.2 336.2 980.4 336.0 980.6 335.9 980.8 335.7 981.0 335.6 981.2 335.5 981.4 335.4 981.6 335.3 981.8 335.2 982.0 335.2 982.2 335.2 982.4 335.2 982.6 335.2 982.8 335.3 983.0 335.4 983.2 335.5 983.4 335.5 983.6 335.7 983.8 335.8 984.0 335.9L1000 335.8" fill="none" stroke="#5d4a1c" stroke-width=".9" stroke-linejoin="round" opacity=".9"/><path d="M1000 335.8H1018" stroke="#5d4a1c" stroke-width=".7" opacity=".45"/><path d="M939.2 300V336" stroke="#5d4a1c" stroke-width=".7" stroke-dasharray="2 1.2" fill="none" opacity=".8"/><path d="M917 405.2H1038.2L1043 432.6V434.4H911.4V432.6Z" fill="#23509a"/><path d="M917 405.2H1038.2L1043 432.6H911.4Z" fill="#4b7fc3"/><path d="M920.3 409.6h8.0v2.9h-8.0zM930.2 409.6h6.8v2.9h-6.8zM938.9 409.6h8.0v2.9h-8.0zM948.8 409.6h6.8v2.9h-6.8zM957.6 409.6h6.8v2.9h-6.8zM966.3 409.6h5.7v2.9h-5.7zM973.9 409.6h6.8v2.9h-6.8zM982.7 409.6h5.7v2.9h-5.7zM990.3 409.6h6.8v2.9h-6.8zM999.0 409.6h9.1v2.9h-9.1zM1010.1 409.6h9.1v2.9h-9.1zM1021.1 409.6h13.6v2.9h-13.6zM919.2 414.9h7.8v2.9h-7.8zM928.9 414.9h7.8v2.9h-7.8zM938.6 414.9h7.8v2.9h-7.8zM948.3 414.9h6.7v2.9h-6.7zM956.9 414.9h6.7v2.9h-6.7zM965.5 414.9h6.7v2.9h-6.7zM974.0 414.9h6.7v2.9h-6.7zM982.6 414.9h6.7v2.9h-6.7zM991.2 414.9h6.7v2.9h-6.7zM999.8 414.9h4.5v2.9h-4.5zM1006.1 414.9h4.5v2.9h-4.5zM1012.5 414.9h3.3v2.9h-3.3zM1017.7 414.9h3.3v2.9h-3.3zM1023.0 414.9h3.3v2.9h-3.3zM1028.2 414.9h2.8v2.9h-2.8zM1032.9 414.9h2.8v2.9h-2.8zM918.1 420.4h9.0v2.9h-9.0zM929.0 420.4h7.9v2.9h-7.9zM938.8 420.4h7.9v2.9h-7.9zM948.5 420.4h6.7v2.9h-6.7zM957.2 420.4h6.7v2.9h-6.7zM965.8 420.4h6.7v2.9h-6.7zM974.5 420.4h6.7v2.9h-6.7zM983.1 420.4h6.7v2.9h-6.7zM991.8 420.4h6.7v2.9h-6.7zM1000.4 420.4h4.5v2.9h-4.5zM1006.8 420.4h4.5v2.9h-4.5zM1013.2 420.4h3.4v2.9h-3.4zM1018.5 420.4h3.4v2.9h-3.4zM1023.8 420.4h3.4v2.9h-3.4zM1029.1 420.4h2.8v2.9h-2.8zM1033.8 420.4h2.8v2.9h-2.8zM917.1 425.6h6.9v2.4h-6.9zM925.9 425.6h6.9v2.4h-6.9zM934.7 425.6h6.9v2.4h-6.9zM943.5 425.6h34.3v2.4h-34.3zM979.7 425.6h8.0v2.4h-8.0zM989.6 425.6h8.0v2.4h-8.0zM999.6 425.6h5.7v2.4h-5.7zM1007.2 425.6h4.6v2.4h-4.6zM1013.7 425.6h3.4v2.4h-3.4zM1019.1 425.6h3.4v2.4h-3.4zM1024.5 425.6h3.4v2.4h-3.4zM1029.8 425.6h2.9v2.4h-2.9zM1034.6 425.6h2.9v2.4h-2.9z" fill="#eef4fc"/><path d="M1047.5 419C1052 413 1066 410.5 1074 415C1081 419 1084 426 1081.5 430.5C1076 433 1068 432.5 1064 431C1062 424 1055 420 1047.5 419Z" fill="url(#gMouse)"/><path d="M1047.5 419C1055 420 1062 424 1064 431C1058 429.5 1052 425 1047.5 419Z" fill="#1f3f8c"/>
<g filter="url(#rough)"><g fill="#c7d3de" opacity=".5"><ellipse cx="548.0" cy="592.0" rx="11.0" ry="11.0"/><ellipse cx="564.5" cy="575.5" rx="7.0" ry="8.0"/><ellipse cx="562.0" cy="584.0" rx="8.5" ry="8.5"/><ellipse cx="566.0" cy="596.0" rx="21.5" ry="13.0" transform="rotate(16 566.0 596.0)"/><ellipse cx="582.5" cy="594.0" rx="6.5" ry="7.0"/><ellipse cx="562.0" cy="605.0" rx="12.5" ry="8.5"/><ellipse cx="569.0" cy="615.0" rx="10.0" ry="9.5"/><ellipse cx="570.0" cy="633.0" rx="14.5" ry="14.5"/><ellipse cx="560.0" cy="628.0" rx="6.0" ry="6.5"/><ellipse cx="566.0" cy="646.5" rx="13.0" ry="7.0"/></g><clipPath id="cpa"><ellipse cx="548.0" cy="592.0" rx="9.5" ry="9.5"/><ellipse cx="564.5" cy="575.5" rx="5.5" ry="6.5"/><ellipse cx="562.0" cy="584.0" rx="7.0" ry="7.0"/><ellipse cx="566.0" cy="596.0" rx="20.0" ry="11.5" transform="rotate(16 566.0 596.0)"/><ellipse cx="582.5" cy="594.0" rx="5.0" ry="5.5"/><ellipse cx="562.0" cy="605.0" rx="11.0" ry="7.0"/><ellipse cx="569.0" cy="615.0" rx="8.5" ry="8.0"/><ellipse cx="570.0" cy="633.0" rx="13.0" ry="13.0"/><ellipse cx="560.0" cy="628.0" rx="4.5" ry="5.0"/><ellipse cx="566.0" cy="646.5" rx="11.5" ry="5.5"/></clipPath><g fill="url(#pw)"><ellipse cx="548.0" cy="592.0" rx="9.5" ry="9.5"/><ellipse cx="564.5" cy="575.5" rx="5.5" ry="6.5"/><ellipse cx="562.0" cy="584.0" rx="7.0" ry="7.0"/><ellipse cx="566.0" cy="596.0" rx="20.0" ry="11.5" transform="rotate(16 566.0 596.0)"/><ellipse cx="582.5" cy="594.0" rx="5.0" ry="5.5"/><ellipse cx="562.0" cy="605.0" rx="11.0" ry="7.0"/><ellipse cx="569.0" cy="615.0" rx="8.5" ry="8.0"/><ellipse cx="570.0" cy="633.0" rx="13.0" ry="13.0"/><ellipse cx="560.0" cy="628.0" rx="4.5" ry="5.0"/><ellipse cx="566.0" cy="646.5" rx="11.5" ry="5.5"/></g><g clip-path="url(#cpa)"><g fill="url(#pb)"><ellipse cx="547.0" cy="592.0" rx="10.5" ry="10.0"/><ellipse cx="568.0" cy="589.0" rx="14.0" ry="5.5"/><ellipse cx="574.0" cy="596.0" rx="8.0" ry="5.0"/><ellipse cx="572.0" cy="627.0" rx="12.0" ry="9.0"/><ellipse cx="564.0" cy="577.0" rx="3.0" ry="3.0"/></g><g fill="url(#pg)"><ellipse cx="562.0" cy="598.0" rx="4.5" ry="3.0"/></g><g fill="url(#pr)"><ellipse cx="539.5" cy="595.0" rx="2.5" ry="3.0"/></g></g><g fill="#c7d3de" opacity=".5"><ellipse cx="615.5" cy="575.0" rx="7.0" ry="8.0"/><ellipse cx="617.5" cy="583.0" rx="8.5" ry="8.0"/><ellipse cx="619.5" cy="595.0" rx="23.0" ry="12.0" transform="rotate(-6 619.5 595.0)"/><ellipse cx="637.0" cy="589.0" rx="9.0" ry="9.5"/><ellipse cx="600.0" cy="592.0" rx="8.5" ry="8.0"/><ellipse cx="626.5" cy="604.0" rx="13.5" ry="8.0"/><ellipse cx="614.5" cy="616.0" rx="10.5" ry="10.5"/><ellipse cx="613.5" cy="635.0" rx="14.5" ry="14.5"/><ellipse cx="601.5" cy="625.0" rx="7.0" ry="7.0"/><ellipse cx="612.5" cy="647.5" rx="12.5" ry="7.0"/></g><clipPath id="cpb"><ellipse cx="615.5" cy="575.0" rx="5.5" ry="6.5"/><ellipse cx="617.5" cy="583.0" rx="7.0" ry="6.5"/><ellipse cx="619.5" cy="595.0" rx="21.5" ry="10.5" transform="rotate(-6 619.5 595.0)"/><ellipse cx="637.0" cy="589.0" rx="7.5" ry="8.0"/><ellipse cx="600.0" cy="592.0" rx="7.0" ry="6.5"/><ellipse cx="626.5" cy="604.0" rx="12.0" ry="6.5"/><ellipse cx="614.5" cy="616.0" rx="9.0" ry="9.0"/><ellipse cx="613.5" cy="635.0" rx="13.0" ry="13.0"/><ellipse cx="601.5" cy="625.0" rx="5.5" ry="5.5"/><ellipse cx="612.5" cy="647.5" rx="11.0" ry="5.5"/></clipPath><g fill="url(#pw)"><ellipse cx="615.5" cy="575.0" rx="5.5" ry="6.5"/><ellipse cx="617.5" cy="583.0" rx="7.0" ry="6.5"/><ellipse cx="619.5" cy="595.0" rx="21.5" ry="10.5" transform="rotate(-6 619.5 595.0)"/><ellipse cx="637.0" cy="589.0" rx="7.5" ry="8.0"/><ellipse cx="600.0" cy="592.0" rx="7.0" ry="6.5"/><ellipse cx="626.5" cy="604.0" rx="12.0" ry="6.5"/><ellipse cx="614.5" cy="616.0" rx="9.0" ry="9.0"/><ellipse cx="613.5" cy="635.0" rx="13.0" ry="13.0"/><ellipse cx="601.5" cy="625.0" rx="5.5" ry="5.5"/><ellipse cx="612.5" cy="647.5" rx="11.0" ry="5.5"/></g><g clip-path="url(#cpb)"><g fill="url(#pb)"><ellipse cx="624.5" cy="590.0" rx="16.0" ry="7.5"/><ellipse cx="614.5" cy="598.0" rx="7.0" ry="4.0"/><ellipse cx="613.5" cy="642.0" rx="11.0" ry="8.5"/><ellipse cx="616.5" cy="575.0" rx="4.0" ry="4.0"/></g><g fill="url(#pg)"><ellipse cx="637.5" cy="596.0" rx="5.0" ry="3.5"/><ellipse cx="620.5" cy="601.0" rx="4.0" ry="2.5"/></g><g fill="url(#pr)"><ellipse cx="643.5" cy="584.0" rx="3.0" ry="3.5"/></g></g><g fill="#c7d3de" opacity=".5"><ellipse cx="668.5" cy="592.0" rx="11.0" ry="11.0"/><ellipse cx="685.0" cy="575.5" rx="7.0" ry="8.0"/><ellipse cx="682.5" cy="584.0" rx="8.5" ry="8.5"/><ellipse cx="686.5" cy="596.0" rx="21.5" ry="13.0" transform="rotate(16 686.5 596.0)"/><ellipse cx="703.0" cy="594.0" rx="6.5" ry="7.0"/><ellipse cx="682.5" cy="605.0" rx="12.5" ry="8.5"/><ellipse cx="689.5" cy="615.0" rx="10.0" ry="9.5"/><ellipse cx="690.5" cy="633.0" rx="14.5" ry="14.5"/><ellipse cx="680.5" cy="628.0" rx="6.0" ry="6.5"/><ellipse cx="686.5" cy="646.5" rx="13.0" ry="7.0"/></g><clipPath id="cpc"><ellipse cx="668.5" cy="592.0" rx="9.5" ry="9.5"/><ellipse cx="685.0" cy="575.5" rx="5.5" ry="6.5"/><ellipse cx="682.5" cy="584.0" rx="7.0" ry="7.0"/><ellipse cx="686.5" cy="596.0" rx="20.0" ry="11.5" transform="rotate(16 686.5 596.0)"/><ellipse cx="703.0" cy="594.0" rx="5.0" ry="5.5"/><ellipse cx="682.5" cy="605.0" rx="11.0" ry="7.0"/><ellipse cx="689.5" cy="615.0" rx="8.5" ry="8.0"/><ellipse cx="690.5" cy="633.0" rx="13.0" ry="13.0"/><ellipse cx="680.5" cy="628.0" rx="4.5" ry="5.0"/><ellipse cx="686.5" cy="646.5" rx="11.5" ry="5.5"/></clipPath><g fill="url(#pw)"><ellipse cx="668.5" cy="592.0" rx="9.5" ry="9.5"/><ellipse cx="685.0" cy="575.5" rx="5.5" ry="6.5"/><ellipse cx="682.5" cy="584.0" rx="7.0" ry="7.0"/><ellipse cx="686.5" cy="596.0" rx="20.0" ry="11.5" transform="rotate(16 686.5 596.0)"/><ellipse cx="703.0" cy="594.0" rx="5.0" ry="5.5"/><ellipse cx="682.5" cy="605.0" rx="11.0" ry="7.0"/><ellipse cx="689.5" cy="615.0" rx="8.5" ry="8.0"/><ellipse cx="690.5" cy="633.0" rx="13.0" ry="13.0"/><ellipse cx="680.5" cy="628.0" rx="4.5" ry="5.0"/><ellipse cx="686.5" cy="646.5" rx="11.5" ry="5.5"/></g><g clip-path="url(#cpc)"><g fill="url(#pb)"><ellipse cx="668.5" cy="592.0" rx="10.0" ry="10.0"/><ellipse cx="689.5" cy="589.0" rx="14.0" ry="6.0"/><ellipse cx="694.5" cy="596.0" rx="8.0" ry="5.0"/><ellipse cx="692.5" cy="627.0" rx="12.0" ry="9.0"/></g><g fill="url(#pg)"><ellipse cx="661.5" cy="595.0" rx="3.5" ry="5.0"/></g></g><g fill="#c7d3de" opacity=".5"><ellipse cx="736.0" cy="575.0" rx="7.0" ry="8.0"/><ellipse cx="738.0" cy="583.0" rx="8.5" ry="8.0"/><ellipse cx="740.0" cy="595.0" rx="23.0" ry="12.0" transform="rotate(-6 740.0 595.0)"/><ellipse cx="757.5" cy="589.0" rx="9.0" ry="9.5"/><ellipse cx="720.5" cy="592.0" rx="8.5" ry="8.0"/><ellipse cx="747.0" cy="604.0" rx="13.5" ry="8.0"/><ellipse cx="735.0" cy="616.0" rx="10.5" ry="10.5"/><ellipse cx="734.0" cy="635.0" rx="14.5" ry="14.5"/><ellipse cx="722.0" cy="625.0" rx="7.0" ry="7.0"/><ellipse cx="733.0" cy="647.5" rx="12.5" ry="7.0"/></g><clipPath id="cpd"><ellipse cx="736.0" cy="575.0" rx="5.5" ry="6.5"/><ellipse cx="738.0" cy="583.0" rx="7.0" ry="6.5"/><ellipse cx="740.0" cy="595.0" rx="21.5" ry="10.5" transform="rotate(-6 740.0 595.0)"/><ellipse cx="757.5" cy="589.0" rx="7.5" ry="8.0"/><ellipse cx="720.5" cy="592.0" rx="7.0" ry="6.5"/><ellipse cx="747.0" cy="604.0" rx="12.0" ry="6.5"/><ellipse cx="735.0" cy="616.0" rx="9.0" ry="9.0"/><ellipse cx="734.0" cy="635.0" rx="13.0" ry="13.0"/><ellipse cx="722.0" cy="625.0" rx="5.5" ry="5.5"/><ellipse cx="733.0" cy="647.5" rx="11.0" ry="5.5"/></clipPath><g fill="url(#pw)"><ellipse cx="736.0" cy="575.0" rx="5.5" ry="6.5"/><ellipse cx="738.0" cy="583.0" rx="7.0" ry="6.5"/><ellipse cx="740.0" cy="595.0" rx="21.5" ry="10.5" transform="rotate(-6 740.0 595.0)"/><ellipse cx="757.5" cy="589.0" rx="7.5" ry="8.0"/><ellipse cx="720.5" cy="592.0" rx="7.0" ry="6.5"/><ellipse cx="747.0" cy="604.0" rx="12.0" ry="6.5"/><ellipse cx="735.0" cy="616.0" rx="9.0" ry="9.0"/><ellipse cx="734.0" cy="635.0" rx="13.0" ry="13.0"/><ellipse cx="722.0" cy="625.0" rx="5.5" ry="5.5"/><ellipse cx="733.0" cy="647.5" rx="11.0" ry="5.5"/></g><g clip-path="url(#cpd)"><g fill="url(#pb)"><ellipse cx="745.0" cy="590.0" rx="16.0" ry="7.5"/><ellipse cx="735.0" cy="598.0" rx="7.0" ry="4.0"/><ellipse cx="734.0" cy="642.0" rx="11.0" ry="8.5"/><ellipse cx="737.0" cy="575.0" rx="4.0" ry="4.0"/></g><g fill="url(#pg)"><ellipse cx="760.0" cy="592.0" rx="3.5" ry="4.5"/></g><g fill="url(#po)"><ellipse cx="765.0" cy="588.0" rx="3.0" ry="4.0"/></g></g><g fill="#c7d3de" opacity=".5"><ellipse cx="548.0" cy="709.0" rx="11.0" ry="11.0"/><ellipse cx="564.5" cy="692.5" rx="7.0" ry="8.0"/><ellipse cx="562.0" cy="701.0" rx="8.5" ry="8.5"/><ellipse cx="566.0" cy="713.0" rx="21.5" ry="13.0" transform="rotate(16 566.0 713.0)"/><ellipse cx="582.5" cy="711.0" rx="6.5" ry="7.0"/><ellipse cx="562.0" cy="722.0" rx="12.5" ry="8.5"/><ellipse cx="569.0" cy="732.0" rx="10.0" ry="9.5"/><ellipse cx="570.0" cy="750.0" rx="14.5" ry="14.5"/><ellipse cx="560.0" cy="745.0" rx="6.0" ry="6.5"/><ellipse cx="566.0" cy="763.5" rx="13.0" ry="7.0"/></g><clipPath id="cpe"><ellipse cx="548.0" cy="709.0" rx="9.5" ry="9.5"/><ellipse cx="564.5" cy="692.5" rx="5.5" ry="6.5"/><ellipse cx="562.0" cy="701.0" rx="7.0" ry="7.0"/><ellipse cx="566.0" cy="713.0" rx="20.0" ry="11.5" transform="rotate(16 566.0 713.0)"/><ellipse cx="582.5" cy="711.0" rx="5.0" ry="5.5"/><ellipse cx="562.0" cy="722.0" rx="11.0" ry="7.0"/><ellipse cx="569.0" cy="732.0" rx="8.5" ry="8.0"/><ellipse cx="570.0" cy="750.0" rx="13.0" ry="13.0"/><ellipse cx="560.0" cy="745.0" rx="4.5" ry="5.0"/><ellipse cx="566.0" cy="763.5" rx="11.5" ry="5.5"/></clipPath><g fill="url(#pw)"><ellipse cx="548.0" cy="709.0" rx="9.5" ry="9.5"/><ellipse cx="564.5" cy="692.5" rx="5.5" ry="6.5"/><ellipse cx="562.0" cy="701.0" rx="7.0" ry="7.0"/><ellipse cx="566.0" cy="713.0" rx="20.0" ry="11.5" transform="rotate(16 566.0 713.0)"/><ellipse cx="582.5" cy="711.0" rx="5.0" ry="5.5"/><ellipse cx="562.0" cy="722.0" rx="11.0" ry="7.0"/><ellipse cx="569.0" cy="732.0" rx="8.5" ry="8.0"/><ellipse cx="570.0" cy="750.0" rx="13.0" ry="13.0"/><ellipse cx="560.0" cy="745.0" rx="4.5" ry="5.0"/><ellipse cx="566.0" cy="763.5" rx="11.5" ry="5.5"/></g><g clip-path="url(#cpe)"><g fill="url(#pr)"><ellipse cx="545.0" cy="709.0" rx="7.0" ry="8.5"/><ellipse cx="556.0" cy="701.0" rx="3.0" ry="3.0"/><ellipse cx="568.0" cy="746.0" rx="9.0" ry="7.5"/></g><g fill="url(#po)"><ellipse cx="552.0" cy="715.0" rx="5.5" ry="6.5"/><ellipse cx="571.0" cy="708.0" rx="10.0" ry="4.0"/><ellipse cx="578.0" cy="715.0" rx="5.0" ry="3.0"/><ellipse cx="568.0" cy="757.0" rx="6.0" ry="3.0"/></g><g fill="url(#pg)"><ellipse cx="558.0" cy="718.0" rx="3.5" ry="4.5"/><ellipse cx="571.0" cy="750.0" rx="4.0" ry="4.0"/></g><g fill="url(#pc)"><ellipse cx="579.0" cy="743.0" rx="3.0" ry="6.0"/></g><g fill="url(#pk)"><ellipse cx="565.0" cy="744.0" rx="3.0" ry="3.0"/></g><g fill="url(#pb)"><ellipse cx="543.0" cy="702.0" rx="2.5" ry="2.5"/></g></g><g fill="#c7d3de" opacity=".5"><ellipse cx="615.5" cy="692.0" rx="7.0" ry="8.0"/><ellipse cx="617.5" cy="700.0" rx="8.5" ry="8.0"/><ellipse cx="619.5" cy="712.0" rx="23.0" ry="12.0" transform="rotate(-6 619.5 712.0)"/><ellipse cx="637.0" cy="706.0" rx="9.0" ry="9.5"/><ellipse cx="600.0" cy="709.0" rx="8.5" ry="8.0"/><ellipse cx="626.5" cy="721.0" rx="13.5" ry="8.0"/><ellipse cx="614.5" cy="733.0" rx="10.5" ry="10.5"/><ellipse cx="613.5" cy="752.0" rx="14.5" ry="14.5"/><ellipse cx="601.5" cy="742.0" rx="7.0" ry="7.0"/><ellipse cx="612.5" cy="764.5" rx="12.5" ry="7.0"/></g><clipPath id="cpf"><ellipse cx="615.5" cy="692.0" rx="5.5" ry="6.5"/><ellipse cx="617.5" cy="700.0" rx="7.0" ry="6.5"/><ellipse cx="619.5" cy="712.0" rx="21.5" ry="10.5" transform="rotate(-6 619.5 712.0)"/><ellipse cx="637.0" cy="706.0" rx="7.5" ry="8.0"/><ellipse cx="600.0" cy="709.0" rx="7.0" ry="6.5"/><ellipse cx="626.5" cy="721.0" rx="12.0" ry="6.5"/><ellipse cx="614.5" cy="733.0" rx="9.0" ry="9.0"/><ellipse cx="613.5" cy="752.0" rx="13.0" ry="13.0"/><ellipse cx="601.5" cy="742.0" rx="5.5" ry="5.5"/><ellipse cx="612.5" cy="764.5" rx="11.0" ry="5.5"/></clipPath><g fill="url(#pw)"><ellipse cx="615.5" cy="692.0" rx="5.5" ry="6.5"/><ellipse cx="617.5" cy="700.0" rx="7.0" ry="6.5"/><ellipse cx="619.5" cy="712.0" rx="21.5" ry="10.5" transform="rotate(-6 619.5 712.0)"/><ellipse cx="637.0" cy="706.0" rx="7.5" ry="8.0"/><ellipse cx="600.0" cy="709.0" rx="7.0" ry="6.5"/><ellipse cx="626.5" cy="721.0" rx="12.0" ry="6.5"/><ellipse cx="614.5" cy="733.0" rx="9.0" ry="9.0"/><ellipse cx="613.5" cy="752.0" rx="13.0" ry="13.0"/><ellipse cx="601.5" cy="742.0" rx="5.5" ry="5.5"/><ellipse cx="612.5" cy="764.5" rx="11.0" ry="5.5"/></g><g clip-path="url(#cpf)"><g fill="url(#pg)"><ellipse cx="614.5" cy="711.0" rx="8.5" ry="7.0"/></g><g fill="url(#po)"><ellipse cx="628.5" cy="708.0" rx="6.5" ry="5.0"/><ellipse cx="633.5" cy="703.0" rx="4.0" ry="3.0"/><ellipse cx="610.5" cy="757.0" rx="10.0" ry="6.0"/><ellipse cx="600.5" cy="742.0" rx="4.0" ry="3.0"/></g><g fill="url(#pr)"><ellipse cx="639.5" cy="709.0" rx="6.0" ry="6.5"/><ellipse cx="610.5" cy="702.0" rx="3.5" ry="3.0"/><ellipse cx="602.5" cy="765.0" rx="4.0" ry="3.0"/></g><g fill="url(#pc)"><ellipse cx="622.5" cy="713.0" rx="3.0" ry="4.0"/><ellipse cx="621.5" cy="746.0" rx="3.0" ry="4.0"/></g><g fill="url(#pk)"><ellipse cx="620.5" cy="694.0" rx="3.0" ry="2.5"/><ellipse cx="610.5" cy="761.0" rx="5.0" ry="3.0"/></g></g><g fill="#c7d3de" opacity=".5"><ellipse cx="669.5" cy="709.0" rx="11.0" ry="11.0"/><ellipse cx="686.0" cy="692.5" rx="7.0" ry="8.0"/><ellipse cx="683.5" cy="701.0" rx="8.5" ry="8.5"/><ellipse cx="687.5" cy="713.0" rx="21.5" ry="13.0" transform="rotate(16 687.5 713.0)"/><ellipse cx="704.0" cy="711.0" rx="6.5" ry="7.0"/><ellipse cx="683.5" cy="722.0" rx="12.5" ry="8.5"/><ellipse cx="690.5" cy="732.0" rx="10.0" ry="9.5"/><ellipse cx="691.5" cy="750.0" rx="14.5" ry="14.5"/><ellipse cx="681.5" cy="745.0" rx="6.0" ry="6.5"/><ellipse cx="687.5" cy="763.5" rx="13.0" ry="7.0"/></g><clipPath id="cpg"><ellipse cx="669.5" cy="709.0" rx="9.5" ry="9.5"/><ellipse cx="686.0" cy="692.5" rx="5.5" ry="6.5"/><ellipse cx="683.5" cy="701.0" rx="7.0" ry="7.0"/><ellipse cx="687.5" cy="713.0" rx="20.0" ry="11.5" transform="rotate(16 687.5 713.0)"/><ellipse cx="704.0" cy="711.0" rx="5.0" ry="5.5"/><ellipse cx="683.5" cy="722.0" rx="11.0" ry="7.0"/><ellipse cx="690.5" cy="732.0" rx="8.5" ry="8.0"/><ellipse cx="691.5" cy="750.0" rx="13.0" ry="13.0"/><ellipse cx="681.5" cy="745.0" rx="4.5" ry="5.0"/><ellipse cx="687.5" cy="763.5" rx="11.5" ry="5.5"/></clipPath><g fill="url(#pw)"><ellipse cx="669.5" cy="709.0" rx="9.5" ry="9.5"/><ellipse cx="686.0" cy="692.5" rx="5.5" ry="6.5"/><ellipse cx="683.5" cy="701.0" rx="7.0" ry="7.0"/><ellipse cx="687.5" cy="713.0" rx="20.0" ry="11.5" transform="rotate(16 687.5 713.0)"/><ellipse cx="704.0" cy="711.0" rx="5.0" ry="5.5"/><ellipse cx="683.5" cy="722.0" rx="11.0" ry="7.0"/><ellipse cx="690.5" cy="732.0" rx="8.5" ry="8.0"/><ellipse cx="691.5" cy="750.0" rx="13.0" ry="13.0"/><ellipse cx="681.5" cy="745.0" rx="4.5" ry="5.0"/><ellipse cx="687.5" cy="763.5" rx="11.5" ry="5.5"/></g><g clip-path="url(#cpg)"><g fill="url(#po)"><ellipse cx="668.5" cy="711.0" rx="7.5" ry="8.5"/><ellipse cx="685.5" cy="704.0" rx="8.0" ry="4.0"/><ellipse cx="689.5" cy="751.0" rx="10.0" ry="8.0"/></g><g fill="url(#pr)"><ellipse cx="664.5" cy="706.0" rx="3.0" ry="3.0"/></g><g fill="url(#pg)"><ellipse cx="694.5" cy="711.0" rx="6.0" ry="4.0"/><ellipse cx="686.5" cy="746.0" rx="4.0" ry="3.0"/></g><g fill="url(#pk)"><ellipse cx="671.5" cy="701.0" rx="3.0" ry="3.0"/><ellipse cx="695.5" cy="720.0" rx="3.0" ry="3.0"/><ellipse cx="689.5" cy="756.0" rx="4.0" ry="3.0"/><ellipse cx="683.5" cy="742.0" rx="3.0" ry="3.0"/></g><g fill="url(#pc)"><ellipse cx="702.5" cy="746.0" rx="3.5" ry="8.0"/></g></g><g fill="#c7d3de" opacity=".5"><ellipse cx="736.0" cy="692.0" rx="7.0" ry="8.0"/><ellipse cx="738.0" cy="700.0" rx="8.5" ry="8.0"/><ellipse cx="740.0" cy="712.0" rx="23.0" ry="12.0" transform="rotate(-6 740.0 712.0)"/><ellipse cx="757.5" cy="706.0" rx="9.0" ry="9.5"/><ellipse cx="720.5" cy="709.0" rx="8.5" ry="8.0"/><ellipse cx="747.0" cy="721.0" rx="13.5" ry="8.0"/><ellipse cx="735.0" cy="733.0" rx="10.5" ry="10.5"/><ellipse cx="734.0" cy="752.0" rx="14.5" ry="14.5"/><ellipse cx="722.0" cy="742.0" rx="7.0" ry="7.0"/><ellipse cx="733.0" cy="764.5" rx="12.5" ry="7.0"/></g><clipPath id="cph"><ellipse cx="736.0" cy="692.0" rx="5.5" ry="6.5"/><ellipse cx="738.0" cy="700.0" rx="7.0" ry="6.5"/><ellipse cx="740.0" cy="712.0" rx="21.5" ry="10.5" transform="rotate(-6 740.0 712.0)"/><ellipse cx="757.5" cy="706.0" rx="7.5" ry="8.0"/><ellipse cx="720.5" cy="709.0" rx="7.0" ry="6.5"/><ellipse cx="747.0" cy="721.0" rx="12.0" ry="6.5"/><ellipse cx="735.0" cy="733.0" rx="9.0" ry="9.0"/><ellipse cx="734.0" cy="752.0" rx="13.0" ry="13.0"/><ellipse cx="722.0" cy="742.0" rx="5.5" ry="5.5"/><ellipse cx="733.0" cy="764.5" rx="11.0" ry="5.5"/></clipPath><g fill="url(#pw)"><ellipse cx="736.0" cy="692.0" rx="5.5" ry="6.5"/><ellipse cx="738.0" cy="700.0" rx="7.0" ry="6.5"/><ellipse cx="740.0" cy="712.0" rx="21.5" ry="10.5" transform="rotate(-6 740.0 712.0)"/><ellipse cx="757.5" cy="706.0" rx="7.5" ry="8.0"/><ellipse cx="720.5" cy="709.0" rx="7.0" ry="6.5"/><ellipse cx="747.0" cy="721.0" rx="12.0" ry="6.5"/><ellipse cx="735.0" cy="733.0" rx="9.0" ry="9.0"/><ellipse cx="734.0" cy="752.0" rx="13.0" ry="13.0"/><ellipse cx="722.0" cy="742.0" rx="5.5" ry="5.5"/><ellipse cx="733.0" cy="764.5" rx="11.0" ry="5.5"/></g><g clip-path="url(#cph)"><g fill="url(#pb)"><ellipse cx="739.0" cy="704.0" rx="7.0" ry="4.5"/><ellipse cx="739.0" cy="748.0" rx="4.0" ry="4.0"/></g><g fill="url(#po)"><ellipse cx="733.0" cy="715.0" rx="8.0" ry="5.0"/><ellipse cx="725.0" cy="750.0" rx="4.0" ry="4.0"/></g><g fill="url(#pg)"><ellipse cx="745.0" cy="711.0" rx="4.5" ry="4.0"/><ellipse cx="735.0" cy="725.0" rx="4.5" ry="3.0"/></g><g fill="url(#pr)"><ellipse cx="731.0" cy="759.0" rx="9.0" ry="6.0"/></g><g fill="url(#pk)"><ellipse cx="737.0" cy="756.0" rx="3.0" ry="3.0"/></g></g></g><path d="M539.5 578.2C541.0 560.2 560.0 558.2 573.0 561.0M641.0 578.2C639.5 560.2 620.0 558.2 607.5 561.0" fill="none" stroke="#8fa6bb" stroke-width="2" opacity=".4"/><path d="M539.5 578.2C541.0 560.2 560.0 558.2 573.0 561.0M641.0 578.2C639.5 560.2 620.0 558.2 607.5 561.0" fill="none" stroke="#0c1218" stroke-width="1" stroke-dasharray="2.8 1.4"/><path d="M575.6 561.3l-4.4 -2.3l1 2.5l-1.2 2.3z" fill="#0c1218"/><path d="M604.8 561.3l4.4 -2.3l-1 2.5l1.2 2.3z" fill="#0c1218"/><ellipse cx="590.0" cy="562.2" rx="11.6" ry="20.6" fill="url(#pw)" stroke="#0d0f12" stroke-width="1.6"/><ellipse cx="587.0" cy="553.2" rx="4.5" ry="5.0" fill="url(#pr)"/><ellipse cx="594.5" cy="555.2" rx="3.5" ry="5.0" fill="url(#pb)"/><ellipse cx="586.5" cy="564.2" rx="4.0" ry="3.5" fill="url(#pg)"/><ellipse cx="593.5" cy="566.2" rx="4.0" ry="5.0" fill="url(#pb)"/><ellipse cx="588.0" cy="560.2" rx="3.0" ry="2.5" fill="url(#pr)"/><path d="M660.0 578.2C661.5 560.2 680.5 558.2 693.5 561.0M761.5 578.2C760.0 560.2 740.5 558.2 728.0 561.0" fill="none" stroke="#8fa6bb" stroke-width="2" opacity=".4"/><path d="M660.0 578.2C661.5 560.2 680.5 558.2 693.5 561.0M761.5 578.2C760.0 560.2 740.5 558.2 728.0 561.0" fill="none" stroke="#0c1218" stroke-width="1" stroke-dasharray="2.8 1.4"/><path d="M696.1 561.3l-4.4 -2.3l1 2.5l-1.2 2.3z" fill="#0c1218"/><path d="M725.3 561.3l4.4 -2.3l-1 2.5l1.2 2.3z" fill="#0c1218"/><ellipse cx="710.5" cy="562.2" rx="11.6" ry="20.6" fill="url(#pw)" stroke="#0d0f12" stroke-width="1.6"/><ellipse cx="710.5" cy="552.2" rx="5.0" ry="5.5" fill="url(#pg)"/><ellipse cx="716.5" cy="556.2" rx="2.8" ry="4.0" fill="url(#pb)"/><ellipse cx="705.0" cy="563.2" rx="3.5" ry="4.5" fill="url(#po)"/><ellipse cx="712.5" cy="565.2" rx="4.5" ry="5.0" fill="url(#pg)"/><ellipse cx="715.5" cy="568.2" rx="2.5" ry="3.0" fill="url(#pb)"/><path d="M540.5 695.4C542.0 677.4 561.0 675.4 574.0 678.2M642.0 695.4C640.5 677.4 621.0 675.4 608.5 678.2" fill="none" stroke="#8fa6bb" stroke-width="2" opacity=".4"/><path d="M540.5 695.4C542.0 677.4 561.0 675.4 574.0 678.2M642.0 695.4C640.5 677.4 621.0 675.4 608.5 678.2" fill="none" stroke="#0c1218" stroke-width="1" stroke-dasharray="2.8 1.4"/><path d="M576.6 678.5l-4.4 -2.3l1 2.5l-1.2 2.3z" fill="#0c1218"/><path d="M605.8 678.5l4.4 -2.3l-1 2.5l1.2 2.3z" fill="#0c1218"/><ellipse cx="591.0" cy="679.4" rx="11.6" ry="20.6" fill="url(#pw)" stroke="#0d0f12" stroke-width="1.6"/><ellipse cx="589.0" cy="667.4" rx="4.0" ry="3.5" fill="url(#po)"/><ellipse cx="595.5" cy="670.4" rx="3.5" ry="3.0" fill="url(#pb)"/><ellipse cx="588.0" cy="678.4" rx="5.5" ry="6.0" fill="url(#pr)"/><ellipse cx="595.5" cy="679.4" rx="3.0" ry="5.0" fill="url(#po)"/><ellipse cx="587.0" cy="688.4" rx="2.5" ry="2.5" fill="url(#pr)"/><ellipse cx="591.0" cy="673.9" rx="4.0" ry="2.0" fill="url(#po)"/><path d="M660.0 695.4C661.5 677.4 680.5 675.4 693.5 678.2M761.5 695.4C760.0 677.4 740.5 675.4 728.0 678.2" fill="none" stroke="#8fa6bb" stroke-width="2" opacity=".4"/><path d="M660.0 695.4C661.5 677.4 680.5 675.4 693.5 678.2M761.5 695.4C760.0 677.4 740.5 675.4 728.0 678.2" fill="none" stroke="#0c1218" stroke-width="1" stroke-dasharray="2.8 1.4"/><path d="M696.1 678.5l-4.4 -2.3l1 2.5l-1.2 2.3z" fill="#0c1218"/><path d="M725.3 678.5l4.4 -2.3l-1 2.5l1.2 2.3z" fill="#0c1218"/><ellipse cx="710.5" cy="679.4" rx="11.6" ry="20.6" fill="url(#pw)" stroke="#0d0f12" stroke-width="1.6"/><ellipse cx="709.5" cy="668.4" rx="4.5" ry="4.5" fill="url(#pr)"/><ellipse cx="716.0" cy="671.4" rx="2.5" ry="3.5" fill="url(#pk)"/><ellipse cx="707.5" cy="679.4" rx="5.5" ry="6.0" fill="url(#pr)"/><ellipse cx="715.0" cy="682.4" rx="3.0" ry="4.5" fill="url(#pk)"/><ellipse cx="712.5" cy="689.4" rx="2.5" ry="2.5" fill="url(#pg)"/><ellipse cx="706.5" cy="687.4" rx="2.5" ry="3.0" fill="url(#pr)"/><rect x="610.4" y="665.1" width="16.3" height="6.6" fill="#1c8cc2"/><rect x="626.5" y="665.1" width="16.4" height="6.6" fill="#45c3dc"/><rect x="642.7" y="665.1" width="17.4" height="6.6" fill="#3cbb7a"/><rect x="659.9" y="665.1" width="16.0" height="6.6" fill="#f08b2e"/><rect x="675.7" y="665.1" width="17.4" height="6.6" fill="#e22635"/><text x="651.2" y="662.6" text-anchor="middle" font-size="10.2" textLength="93.5" lengthAdjust="spacingAndGlyphs" style="font-family:'Liberation Sans',sans-serif" fill="none" stroke="#9fb4c8" stroke-width="1.3" opacity=".4">1.0 0.8 0.6 0.4 0.2 0.0</text><text x="651.2" y="662.6" text-anchor="middle" font-size="10.2" textLength="93.5" lengthAdjust="spacingAndGlyphs" style="font-family:'Liberation Sans',sans-serif" fill="#0a0d12" stroke="#0a0d12" stroke-width=".45">1.0 0.8 0.6 0.4 0.2 0.0</text><path d="M590.4 761.5V777" stroke="#0d1117" stroke-width="1.1" fill="none"/><path d="M581.9 772.6C586.4 769.8 594.4 769.8 598.9 771.6" stroke="#0d1117" stroke-width=".9" fill="none" stroke-dasharray="3 1.2"/><path d="M580.8 771.2l3.4 -1.6l-1 2.9zM600.2 770.4l-3.4 -1.4l1.2 2.9z" fill="#0d1117"/><text x="592.6" y="789.4" text-anchor="middle" font-size="11.2" style="font-family:'Liberation Sans',sans-serif" fill="none" stroke="#9fb4c8" stroke-width="1.3" opacity=".4">180°</text><text x="592.6" y="789.4" text-anchor="middle" font-size="11.2" style="font-family:'Liberation Sans',sans-serif" fill="#0a0d12" stroke="#0a0d12" stroke-width=".4">180°</text><path d="M710.6 761.5V777" stroke="#0d1117" stroke-width="1.1" fill="none"/><path d="M702.1 772.6C706.6 769.8 714.6 769.8 719.1 771.6" stroke="#0d1117" stroke-width=".9" fill="none" stroke-dasharray="3 1.2"/><path d="M701.0 771.2l3.4 -1.6l-1 2.9zM720.4 770.4l-3.4 -1.4l1.2 2.9z" fill="#0d1117"/><text x="712.8" y="789.4" text-anchor="middle" font-size="11.2" style="font-family:'Liberation Sans',sans-serif" fill="none" stroke="#9fb4c8" stroke-width="1.3" opacity=".4">180°</text><text x="712.8" y="789.4" text-anchor="middle" font-size="11.2" style="font-family:'Liberation Sans',sans-serif" fill="#0a0d12" stroke="#0a0d12" stroke-width=".4">180°</text>
<g filter="url(#holey)" fill="#e3cbe8" opacity=".92"><path d="M931.5 573.9C936.2 568.4 945.6 565.2 953.5 562.9C961.4 560.5 970.0 559.5 978.7 559.7C987.4 560.0 999.4 559.5 1005.5 564.4C1011.5 569.4 1014.4 580.7 1014.9 589.6C1015.4 598.5 1010.2 608.5 1008.6 618.0C1007.0 627.4 1007.8 637.4 1005.5 646.3C1003.1 655.2 999.9 666.5 994.4 671.5C988.9 676.5 979.5 677.0 972.4 676.2C965.3 675.4 956.7 672.8 951.9 666.7C947.2 660.7 948.1 648.1 944.1 640.0C940.0 631.9 930.8 625.3 927.7 618.0C924.6 610.6 924.6 603.3 925.2 595.9C925.8 588.6 926.8 579.4 931.5 573.9Z"/><path d="M1019.6 564.4C1022.2 560.8 1034.3 574.4 1041.7 573.9C1049.0 573.4 1055.8 564.0 1063.7 561.3C1071.6 558.6 1081.8 555.4 1088.9 557.5C1096.0 559.6 1100.7 567.5 1106.2 573.9C1111.7 580.3 1114.8 590.1 1121.9 595.9C1129.0 601.7 1141.9 604.8 1148.7 608.5C1155.5 612.2 1162.6 612.4 1162.9 618.0C1163.1 623.5 1155.0 634.5 1150.3 641.6C1145.5 648.6 1139.2 654.2 1134.5 660.4C1129.8 666.7 1127.4 677.2 1121.9 679.3C1116.4 681.4 1109.1 678.5 1101.5 673.0C1093.9 667.5 1084.7 652.8 1076.3 646.3C1067.9 639.7 1057.9 638.4 1051.1 633.7C1044.3 629.0 1039.6 624.2 1035.4 618.0C1031.2 611.7 1028.5 604.8 1025.9 595.9C1023.3 587.0 1017.0 568.1 1019.6 564.4Z"/><path d="M994.4 621.1C1000.2 614.3 1020.7 615.9 1032.2 618.0C1043.8 620.1 1058.4 626.9 1063.7 633.7C1068.9 640.5 1068.9 653.6 1063.7 658.9C1058.4 664.1 1043.2 665.2 1032.2 665.2C1021.2 665.2 1003.9 666.2 997.6 658.9C991.3 651.5 988.7 627.9 994.4 621.1Z"/></g><g filter="url(#holey2)" fill="#f3e4f4" opacity=".6"><path d="M931.5 573.9C936.2 568.4 945.6 565.2 953.5 562.9C961.4 560.5 970.0 559.5 978.7 559.7C987.4 560.0 999.4 559.5 1005.5 564.4C1011.5 569.4 1014.4 580.7 1014.9 589.6C1015.4 598.5 1010.2 608.5 1008.6 618.0C1007.0 627.4 1007.8 637.4 1005.5 646.3C1003.1 655.2 999.9 666.5 994.4 671.5C988.9 676.5 979.5 677.0 972.4 676.2C965.3 675.4 956.7 672.8 951.9 666.7C947.2 660.7 948.1 648.1 944.1 640.0C940.0 631.9 930.8 625.3 927.7 618.0C924.6 610.6 924.6 603.3 925.2 595.9C925.8 588.6 926.8 579.4 931.5 573.9Z"/><path d="M1019.6 564.4C1022.2 560.8 1034.3 574.4 1041.7 573.9C1049.0 573.4 1055.8 564.0 1063.7 561.3C1071.6 558.6 1081.8 555.4 1088.9 557.5C1096.0 559.6 1100.7 567.5 1106.2 573.9C1111.7 580.3 1114.8 590.1 1121.9 595.9C1129.0 601.7 1141.9 604.8 1148.7 608.5C1155.5 612.2 1162.6 612.4 1162.9 618.0C1163.1 623.5 1155.0 634.5 1150.3 641.6C1145.5 648.6 1139.2 654.2 1134.5 660.4C1129.8 666.7 1127.4 677.2 1121.9 679.3C1116.4 681.4 1109.1 678.5 1101.5 673.0C1093.9 667.5 1084.7 652.8 1076.3 646.3C1067.9 639.7 1057.9 638.4 1051.1 633.7C1044.3 629.0 1039.6 624.2 1035.4 618.0C1031.2 611.7 1028.5 604.8 1025.9 595.9C1023.3 587.0 1017.0 568.1 1019.6 564.4Z"/></g><path d="M933.1 577.0C933.8 574.9 934.1 567.3 937.8 564.4C941.4 561.6 950.9 562.9 955.1 559.7C959.3 556.6 958.8 549.2 963.0 545.6C967.2 541.9 977.9 540.3 980.3 537.7C982.6 535.1 976.1 530.9 977.1 529.8C978.2 528.8 984.2 530.1 986.6 531.4C988.9 532.7 991.8 534.8 991.3 537.7C990.8 540.6 984.5 544.8 983.4 548.7C982.4 552.6 986.6 558.7 985.0 561.3C983.4 563.9 975.8 563.9 974.0 564.4" fill="none" stroke="#eef0f6" stroke-width="2" stroke-linecap="round"/><path d="M1043.2 564.4C1043.0 562.6 1040.3 556.6 1041.7 553.4C1043.0 550.3 1047.7 546.1 1051.1 545.6C1054.5 545.0 1059.5 547.9 1062.1 550.3C1064.7 552.6 1067.4 556.8 1066.8 559.7C1066.3 562.6 1060.3 566.3 1059.0 567.6" fill="none" stroke="#eef0f6" stroke-width="2" stroke-linecap="round"/><path d="M1076.3 556.6C1077.1 554.5 1080.7 547.6 1081.0 544.0C1081.3 540.3 1076.5 536.9 1077.9 534.5C1079.2 532.2 1086.8 528.8 1088.9 529.8C1091.0 530.9 1089.4 538.2 1090.4 540.8C1091.5 543.5 1095.4 543.7 1095.2 545.6C1094.9 547.4 1089.4 549.2 1088.9 551.8C1088.4 554.5 1091.5 559.7 1092.0 561.3" fill="none" stroke="#eef0f6" stroke-width="2" stroke-linecap="round"/><path d="M1120.4 570.7C1122.2 569.7 1126.7 564.4 1131.4 564.4C1136.1 564.4 1143.7 567.3 1148.7 570.7C1153.7 574.1 1160.8 581.0 1161.3 584.9C1161.8 588.8 1152.6 590.9 1151.8 594.3C1151.0 597.8 1157.6 602.5 1156.6 605.4C1155.5 608.2 1149.5 612.2 1145.5 611.7C1141.6 611.1 1136.1 606.1 1132.9 602.2C1129.8 598.3 1126.4 592.0 1126.7 588.0C1126.9 584.1 1133.2 580.2 1134.5 578.6" fill="none" stroke="#eef0f6" stroke-width="2" stroke-linecap="round"/><path d="M1101.5 573.9C1099.9 574.9 1094.6 576.5 1092.0 580.2C1089.4 583.8 1088.4 591.7 1085.7 595.9C1083.1 600.1 1077.9 603.8 1076.3 605.4" fill="none" stroke="#eef0f6" stroke-width="2" stroke-linecap="round"/><path d="M1019.6 564.4C1020.7 565.5 1023.3 569.2 1025.9 570.7C1028.5 572.3 1033.8 573.4 1035.4 573.9" fill="none" stroke="#eef0f6" stroke-width="2" stroke-linecap="round"/><path d="M934.6 602.2C936.2 601.7 942.0 597.0 944.1 599.1C946.2 601.2 948.3 610.1 947.2 614.8C946.2 619.5 937.8 622.1 937.8 627.4C937.8 632.6 943.5 641.0 947.2 646.3C950.9 651.5 958.8 654.7 959.8 658.9C960.9 663.1 953.0 666.7 953.5 671.5C954.0 676.2 961.4 684.6 963.0 687.2" fill="none" stroke="#b9b8c6" stroke-width="1.9" stroke-linecap="round"/><path d="M1063.7 611.7C1066.8 611.1 1080.0 605.9 1082.6 608.5C1085.2 611.1 1077.9 622.1 1079.4 627.4C1081.0 632.6 1086.3 634.7 1092.0 640.0C1097.8 645.2 1109.9 653.6 1114.1 658.9C1118.3 664.1 1116.7 669.4 1117.2 671.5" fill="none" stroke="#b9b8c6" stroke-width="1.9" stroke-linecap="round"/><path d="M1117.2 671.5C1120.9 671.5 1130.8 671.5 1139.2 671.5C1147.6 671.5 1162.1 669.4 1167.6 671.5C1173.1 673.6 1172.8 678.8 1172.3 684.1C1171.8 689.3 1169.4 696.7 1164.4 702.9C1159.4 709.2 1148.7 718.2 1142.4 721.8C1136.1 725.5 1130.8 725.5 1126.7 725.0C1122.5 724.5 1121.4 717.6 1117.2 718.7C1113.0 719.7 1104.1 729.2 1101.5 731.3" fill="none" stroke="#b9b8c6" stroke-width="1.9" stroke-linecap="round"/><path d="M1003.9 731.3C1005.5 733.9 1008.6 741.8 1013.3 747.0C1018.0 752.3 1029.6 758.6 1032.2 762.8C1034.8 767.0 1027.5 771.7 1029.1 772.2C1030.6 772.7 1036.9 765.9 1041.7 765.9C1046.4 765.9 1054.8 771.2 1057.4 772.2" fill="none" stroke="#b9b8c6" stroke-width="1.9" stroke-linecap="round"/><path d="M977.1 690.4C977.4 693.5 977.4 704.5 978.7 709.2C980.0 714.0 983.9 717.1 985.0 718.7" fill="none" stroke="#b9b8c6" stroke-width="1.9" stroke-linecap="round"/><path d="M1082.6 753.3C1083.6 752.3 1085.7 747.0 1088.9 747.0C1092.0 747.0 1098.3 750.2 1101.5 753.3C1104.6 756.5 1106.7 763.8 1107.8 765.9" fill="none" stroke="#b9b8c6" stroke-width="1.9" stroke-linecap="round"/><path d="M1002.3 594.3C1001.0 596.7 996.8 603.5 994.4 608.5C992.1 613.5 989.2 621.6 988.1 624.2" fill="none" stroke="#b9c225" stroke-width="6.5" stroke-linecap="round"/><path d="M1002.3 594.3C1001.0 596.7 996.8 603.5 994.4 608.5C992.1 613.5 989.2 621.6 988.1 624.2" fill="none" stroke="#e2e23e" stroke-width="4.5" stroke-linecap="round"/><path d="M1008.6 608.5C1007.0 610.1 1002.0 614.8 999.2 618.0C996.3 621.1 992.6 625.8 991.3 627.4" fill="none" stroke="#b9c225" stroke-width="5.5" stroke-linecap="round"/><path d="M1008.6 608.5C1007.0 610.1 1002.0 614.8 999.2 618.0C996.3 621.1 992.6 625.8 991.3 627.4" fill="none" stroke="#e2e23e" stroke-width="3.5" stroke-linecap="round"/><path d="M1048.0 573.9C1048.2 577.6 1050.1 588.6 1049.5 595.9C1049.0 603.3 1045.6 614.3 1044.8 618.0" fill="none" stroke="#b9c225" stroke-width="8.5" stroke-linecap="round"/><path d="M1048.0 573.9C1048.2 577.6 1050.1 588.6 1049.5 595.9C1049.0 603.3 1045.6 614.3 1044.8 618.0" fill="none" stroke="#e2e23e" stroke-width="6.5" stroke-linecap="round"/><path d="M1057.4 595.9C1056.6 598.5 1053.8 606.9 1052.7 611.7C1051.5 616.4 1050.8 622.1 1050.5 624.2" fill="none" stroke="#b9c225" stroke-width="7.0" stroke-linecap="round"/><path d="M1057.4 595.9C1056.6 598.5 1053.8 606.9 1052.7 611.7C1051.5 616.4 1050.8 622.1 1050.5 624.2" fill="none" stroke="#e2e23e" stroke-width="5.0" stroke-linecap="round"/><path d="M1021.2 564.4C1023.6 565.5 1030.9 568.4 1035.4 570.7C1039.8 573.1 1043.2 575.5 1048.0 578.6C1052.7 581.8 1061.1 587.8 1063.7 589.6" fill="none" stroke="#b9c225" stroke-width="7.5" stroke-linecap="round"/><path d="M1021.2 564.4C1023.6 565.5 1030.9 568.4 1035.4 570.7C1039.8 573.1 1043.2 575.5 1048.0 578.6C1052.7 581.8 1061.1 587.8 1063.7 589.6" fill="none" stroke="#e2e23e" stroke-width="5.5" stroke-linecap="round"/><path d="M1019.0 564.4C1021.2 565.2 1028.2 567.1 1032.2 569.2C1036.3 571.3 1041.4 575.7 1043.2 577.0" fill="none" stroke="#f6f4ae" stroke-width="5.5" stroke-linecap="round" opacity=".95"/><path d="M1003.9 570.7C1002.8 573.4 1000.7 581.2 997.6 586.5C994.4 591.7 987.9 598.0 985.0 602.2C982.1 606.4 981.1 610.1 980.3 611.7" fill="none" stroke="#ecebbb" stroke-width="4.5" stroke-linecap="round" opacity=".9"/><path d="M1057.4 573.9C1059.0 576.5 1063.7 584.9 1066.8 589.6C1070.0 594.3 1074.7 600.1 1076.3 602.2" fill="none" stroke="#ecebbb" stroke-width="4" stroke-linecap="round" opacity=".9"/><path d="M1024.3 646.3C1026.2 648.4 1033.0 653.6 1035.4 658.9C1037.7 664.1 1039.0 671.5 1038.5 677.8C1038.0 684.1 1033.3 693.5 1032.2 696.7" fill="none" stroke="#a4e66c" stroke-width="2.8" stroke-linecap="round"/><path d="M1010.2 602.2C1011.8 602.2 1017.0 601.2 1019.6 602.2C1022.2 603.3 1024.9 607.5 1025.9 608.5" fill="none" stroke="#a4e66c" stroke-width="2.8" stroke-linecap="round"/><path d="M1025.9 687.2C1028.5 687.7 1037.5 688.3 1041.7 690.4C1045.9 692.5 1049.5 698.2 1051.1 699.8" fill="none" stroke="#a4e66c" stroke-width="2.8" stroke-linecap="round"/><path d="M1101.5 721.8C1102.5 723.4 1107.2 728.1 1107.8 731.3C1108.3 734.4 1105.1 739.1 1104.6 740.7" fill="none" stroke="#a4e66c" stroke-width="2.8" stroke-linecap="round"/><g filter="url(#halo)"><g filter="url(#holey3)"><g fill="#8a2cbe"><path d="M953.5 621.1C955.6 618.0 962.7 617.4 967.7 617.3C972.7 617.2 980.4 617.7 983.4 620.5C986.4 623.2 987.5 630.6 985.6 633.7C983.8 636.8 977.5 638.7 972.4 639.0C967.3 639.4 958.2 638.9 955.1 635.9C951.9 632.9 951.4 624.2 953.5 621.1Z"/><path d="M965.5 649.4C967.3 644.2 975.2 642.1 981.8 643.1C988.5 644.2 998.2 651.4 1005.5 655.7C1012.7 660.0 1020.5 663.2 1025.3 668.9C1030.1 674.7 1033.5 683.2 1034.1 690.4C1034.7 697.5 1032.5 707.6 1029.1 711.8C1025.6 716.0 1016.4 711.9 1013.3 715.5C1010.3 719.2 1013.5 729.8 1010.8 733.8C1008.1 737.8 1000.8 741.2 997.0 739.5C993.1 737.7 990.0 730.5 987.5 723.4C985.0 716.3 984.6 704.8 981.8 696.7C979.1 688.5 973.6 682.5 970.8 674.6C968.1 666.7 963.6 654.7 965.5 649.4Z"/><path d="M1032.2 627.4C1036.1 623.5 1047.7 621.0 1053.0 623.0C1058.2 625.0 1062.4 633.4 1063.7 639.4C1065.0 645.3 1060.0 652.5 1060.5 658.9C1061.1 665.3 1066.6 670.3 1066.8 677.8C1067.0 685.2 1065.1 698.9 1061.8 703.6C1058.6 708.3 1051.3 708.7 1047.3 706.1C1043.3 703.5 1040.3 694.7 1037.9 687.8C1035.5 681.0 1034.2 672.1 1032.8 665.2C1031.5 658.2 1029.8 652.6 1029.7 646.3C1029.6 640.0 1028.3 631.3 1032.2 627.4Z"/><path d="M1062.4 643.8C1065.9 640.1 1076.8 637.8 1083.8 640.0C1090.9 642.2 1099.2 651.3 1104.6 657.0C1110.1 662.7 1114.9 667.1 1116.6 674.0C1118.3 680.9 1116.8 692.7 1114.7 698.5C1112.6 704.4 1108.1 706.9 1104.0 709.2C1099.9 711.6 1094.6 709.8 1090.1 712.4C1085.6 715.0 1082.2 722.9 1076.9 725.0C1071.7 727.1 1062.6 727.0 1058.7 725.0C1054.7 723.0 1051.2 717.3 1053.0 713.0C1054.8 708.7 1064.6 703.5 1069.4 699.2C1074.1 694.9 1080.4 691.7 1081.3 687.2C1082.3 682.7 1078.1 676.3 1075.0 672.1C1072.0 667.9 1065.2 666.7 1063.1 662.0C1061.0 657.3 1059.0 647.4 1062.4 643.8Z"/></g><g fill="#5b1a92" opacity=".55"><path d="M994.4 665.2C995.2 662.0 1000.7 666.2 1003.9 671.5C1007.0 676.7 1012.8 690.4 1013.3 696.7C1013.8 702.9 1009.4 710.3 1007.0 709.2C1004.7 708.2 1001.3 697.7 999.2 690.4C997.1 683.0 993.7 668.3 994.4 665.2Z"/><path d="M1041.7 646.3C1043.1 642.1 1049.0 642.1 1051.1 646.3C1053.2 650.5 1054.8 664.1 1054.2 671.5C1053.7 678.8 1049.9 690.4 1048.0 690.4C1046.0 690.4 1043.3 678.8 1042.3 671.5C1041.2 664.1 1040.2 650.5 1041.7 646.3Z"/><path d="M1076.3 662.0C1077.3 659.4 1085.2 661.0 1088.9 665.2C1092.5 669.4 1098.3 682.0 1098.3 687.2C1098.3 692.5 1091.5 697.7 1088.9 696.7C1086.3 695.6 1084.7 686.7 1082.6 680.9C1080.5 675.1 1075.2 664.6 1076.3 662.0Z"/><path d="M978.7 658.9C979.0 653.6 984.5 659.9 986.6 665.2C988.7 670.4 991.6 685.1 991.3 690.4C991.0 695.6 987.1 701.9 985.0 696.7C982.9 691.4 978.4 664.1 978.7 658.9Z"/></g><g fill="#b765e2" opacity=".8"><path d="M982.5 652.6C983.7 650.1 991.5 652.7 994.4 656.4C997.4 660.0 1000.1 669.5 1000.1 674.6C1000.1 679.8 996.6 687.7 994.4 687.2C992.2 686.7 988.9 677.2 986.9 671.5C984.9 665.7 981.2 655.1 982.5 652.6Z"/><path d="M1010.2 674.6C1011.4 672.5 1018.6 674.1 1021.2 677.8C1023.8 681.4 1026.2 691.9 1025.9 696.7C1025.7 701.4 1021.6 707.1 1019.6 706.1C1017.6 705.0 1015.5 695.6 1014.0 690.4C1012.4 685.1 1009.0 676.7 1010.2 674.6Z"/><path d="M1038.5 633.7C1040.3 631.3 1051.1 629.2 1054.2 630.5C1057.4 631.9 1059.2 639.2 1057.4 641.6C1055.6 643.9 1046.4 646.0 1043.2 644.7C1040.1 643.4 1036.7 636.1 1038.5 633.7Z"/><path d="M1070.0 649.4C1070.3 646.8 1081.5 645.8 1085.7 647.9C1089.9 650.0 1095.4 659.4 1095.2 662.0C1094.9 664.6 1088.4 665.7 1084.2 663.6C1080.0 661.5 1069.7 652.1 1070.0 649.4Z"/><path d="M1063.7 704.5C1064.7 700.6 1074.7 695.9 1079.4 693.5C1084.2 691.1 1090.4 688.8 1092.0 690.4C1093.6 691.9 1092.0 698.5 1088.9 702.9C1085.7 707.4 1077.3 716.8 1073.1 717.1C1068.9 717.4 1062.6 708.5 1063.7 704.5Z"/></g></g></g><g fill="none" filter="url(#rough2)"><path d="M956.7 676.2L968.0 720.3" stroke="#8a2cbe" stroke-width="17.0" stroke-linecap="round"/><path d="M956.7 676.2L968.0 720.3" stroke="#d9a0f2" stroke-width="10.2" stroke-dasharray="2.0 4.6" stroke-dashoffset="-1.3"/><path d="M956.7 676.2L968.0 720.3" stroke="#5b1a92" stroke-width="17.0" stroke-dasharray="1.0 5.5" stroke-dashoffset="-4.0" opacity=".6"/></g><g fill="#f7d9f7" opacity=".9"><ellipse cx="988.1" cy="662.0" rx="1.6" ry="1"/><ellipse cx="1003.9" cy="677.8" rx="1.6" ry="1"/><ellipse cx="1010.2" cy="690.4" rx="1.6" ry="1"/><ellipse cx="994.4" cy="709.2" rx="1.6" ry="1"/><ellipse cx="1048.0" cy="658.9" rx="1.6" ry="1"/><ellipse cx="1051.1" cy="684.1" rx="1.6" ry="1"/><ellipse cx="1088.9" cy="671.5" rx="1.6" ry="1"/><ellipse cx="1101.5" cy="690.4" rx="1.6" ry="1"/><ellipse cx="1076.3" cy="709.2" rx="1.6" ry="1"/><ellipse cx="966.1" cy="627.4" rx="1.6" ry="1"/><ellipse cx="1085.7" cy="655.7" rx="1.6" ry="1"/></g><path d="M1005.5 592.8C1007.0 593.8 1012.3 596.4 1014.9 599.1C1017.5 601.7 1020.9 605.6 1021.2 608.5C1021.5 611.4 1017.3 615.1 1016.5 616.4" fill="none" stroke="#ef7a1c" stroke-width="5.0" stroke-linecap="round"/><path d="M1040.1 618.0C1039.8 619.5 1038.8 625.8 1038.5 627.4" fill="none" stroke="#d83a14" stroke-width="5.0" stroke-linecap="round"/><path d="M1003.9 655.7C1005.2 657.3 1009.4 661.5 1011.8 665.2C1014.1 668.8 1015.8 673.6 1018.0 677.8C1020.3 682.0 1023.3 685.6 1025.3 690.4C1027.2 695.1 1029.0 703.5 1029.7 706.1" fill="none" stroke="#ef7a1c" stroke-width="5.5" stroke-linecap="round"/><path d="M1017.1 671.5C1018.2 674.1 1022.3 684.6 1023.4 687.2" fill="none" stroke="#d83a14" stroke-width="3.5" stroke-linecap="round"/><path d="M1036.0 668.3C1037.5 669.4 1042.7 670.9 1044.8 674.6C1046.9 678.3 1048.0 687.7 1048.6 690.4" fill="none" stroke="#ef7a1c" stroke-width="4.0" stroke-linecap="round"/><path d="M1043.2 677.8C1043.9 679.9 1046.6 688.3 1047.3 690.4" fill="none" stroke="#d83a14" stroke-width="2.5" stroke-linecap="round"/><path d="M1054.9 719.3C1057.4 719.8 1064.8 723.2 1070.0 722.5C1075.1 721.7 1080.5 715.5 1085.7 714.9C1091.0 714.3 1098.8 718.1 1101.5 718.7" fill="none" stroke="#ef7a1c" stroke-width="7.0" stroke-linecap="round"/><path d="M1057.4 720.9C1059.5 721.4 1067.9 723.3 1070.0 723.7" fill="none" stroke="#d83a14" stroke-width="4.5" stroke-linecap="round"/><path d="M994.4 658.9C995.5 661.0 999.7 669.4 1000.7 671.5" fill="none" stroke="#f4a03c" stroke-width="4.0" stroke-linecap="round"/><g filter="url(#halo)"><g filter="url(#holey3)"><g fill="#2b9fba"><path d="M1110.3 690.4C1111.1 684.0 1116.3 676.1 1120.4 671.5C1124.4 666.8 1130.8 662.7 1134.5 662.7C1138.2 662.7 1142.4 666.8 1142.4 671.5C1142.4 676.1 1137.1 684.6 1134.5 690.4C1131.9 696.1 1129.8 702.8 1126.7 706.1C1123.5 709.3 1118.4 712.5 1115.6 709.9C1112.9 707.2 1109.5 696.8 1110.3 690.4Z"/><path d="M1142.4 665.2C1144.8 662.8 1150.8 663.6 1155.0 666.7C1159.2 669.9 1164.6 678.0 1167.6 684.1C1170.5 690.1 1172.9 696.9 1172.6 702.9C1172.3 709.0 1169.5 717.1 1166.0 720.3C1162.5 723.4 1155.0 725.2 1151.8 721.8C1148.7 718.4 1148.9 706.6 1147.1 699.8C1145.3 693.0 1141.6 686.7 1140.8 680.9C1140.0 675.1 1140.0 667.5 1142.4 665.2Z"/><path d="M1022.1 723.4C1023.7 719.0 1034.7 718.8 1041.7 721.2C1048.6 723.6 1057.8 732.2 1063.7 737.6C1069.6 742.9 1074.7 748.0 1076.9 753.3C1079.1 758.7 1079.1 766.4 1076.9 769.7C1074.7 772.9 1068.6 773.9 1063.7 772.8C1058.8 771.8 1052.6 767.6 1047.3 763.4C1042.1 759.2 1036.4 754.3 1032.2 747.6C1028.0 741.0 1020.6 727.8 1022.1 723.4Z"/><path d="M1085.7 725.0C1088.5 721.5 1097.5 720.7 1101.5 722.8C1105.5 724.9 1109.0 732.5 1109.7 737.6C1110.3 742.7 1104.4 748.1 1105.2 753.3C1106.1 758.6 1113.6 763.7 1114.7 769.1C1115.7 774.4 1115.3 782.2 1111.5 785.4C1107.8 788.7 1097.5 789.6 1092.0 788.6C1086.6 787.5 1079.3 783.4 1078.8 779.1C1078.3 774.8 1087.8 768.6 1088.9 762.8C1089.9 756.9 1085.6 750.2 1085.1 743.9C1084.6 737.6 1083.0 728.5 1085.7 725.0Z"/></g><g fill="#63c6da" opacity=".75"><path d="M1120.4 671.5C1121.9 668.6 1132.4 665.7 1136.1 666.7C1139.8 667.8 1144.0 674.9 1142.4 677.8C1140.8 680.6 1130.3 685.1 1126.7 684.1C1123.0 683.0 1118.8 674.4 1120.4 671.5Z"/><path d="M1151.8 677.8C1153.4 675.7 1163.4 680.4 1166.0 684.1C1168.6 687.7 1169.1 697.7 1167.6 699.8C1166.0 701.9 1159.2 700.3 1156.6 696.7C1153.9 693.0 1150.3 679.9 1151.8 677.8Z"/><path d="M1029.1 726.6C1029.1 723.7 1042.2 726.3 1048.0 729.7C1053.7 733.1 1063.7 744.1 1063.7 747.0C1063.7 749.9 1053.7 750.4 1048.0 747.0C1042.2 743.6 1029.1 729.4 1029.1 726.6Z"/><path d="M1088.9 729.7C1090.7 727.6 1099.4 728.4 1101.5 731.3C1103.6 734.2 1103.3 744.9 1101.5 747.0C1099.6 749.1 1092.5 746.8 1090.4 743.9C1088.4 741.0 1087.0 731.8 1088.9 729.7Z"/></g><g fill="#17728c" opacity=".6"><path d="M1117.2 690.4C1119.3 687.5 1129.3 685.6 1132.9 687.2C1136.6 688.8 1141.3 696.9 1139.2 699.8C1137.1 702.7 1124.0 706.1 1120.4 704.5C1116.7 702.9 1115.1 693.2 1117.2 690.4Z"/><path d="M1051.1 753.3C1053.2 751.5 1066.3 753.8 1070.0 756.5C1073.7 759.1 1075.2 767.2 1073.1 769.1C1071.0 770.9 1061.1 770.1 1057.4 767.5C1053.7 764.9 1049.0 755.1 1051.1 753.3Z"/><path d="M1088.9 765.9C1092.0 763.3 1104.6 766.2 1107.8 769.1C1110.9 771.9 1110.9 780.6 1107.8 783.2C1104.6 785.8 1092.0 787.7 1088.9 784.8C1085.7 781.9 1085.7 768.5 1088.9 765.9Z"/></g></g></g><g filter="url(#holey3)" fill="#dfe9ef"><path d="M947.2 709.2C948.6 704.9 956.1 706.5 960.4 711.8C964.7 717.0 970.3 733.7 973.0 740.7C975.8 747.8 978.4 751.1 976.8 753.9C975.2 756.8 967.7 760.8 963.6 758.0C959.4 755.3 954.7 745.7 951.9 737.6C949.2 729.4 945.8 713.5 947.2 709.2Z"/><path d="M918.3 751.7C919.3 748.7 926.5 746.4 931.5 748.3C936.4 750.1 946.2 758.7 947.8 762.8C949.5 766.8 945.3 772.2 941.6 772.8C937.8 773.5 929.1 770.0 925.2 766.5C921.3 763.0 917.2 754.8 918.3 751.7Z"/></g><g fill="#f8fbfd" opacity=".85"><path d="M951.9 715.5C952.9 714.0 957.2 717.1 959.8 721.8C962.4 726.6 967.4 739.7 967.7 743.9C967.9 748.1 963.6 749.1 961.4 747.0C959.1 744.9 955.7 736.5 954.1 731.3C952.6 726.0 951.0 717.1 951.9 715.5Z"/></g><path d="M970.8 753.3C973.2 754.9 981.8 758.6 985.0 762.8C988.1 767.0 990.8 774.8 989.7 778.5C988.7 782.2 981.8 782.2 978.7 784.8C975.6 787.4 972.1 792.7 970.8 794.2" fill="none" stroke="#e3ebf1" stroke-width="2" stroke-linecap="round"/><path d="M944.1 765.9C946.2 767.0 952.7 769.6 956.7 772.2C960.6 774.8 965.8 780.1 967.7 781.6" fill="none" stroke="#e3ebf1" stroke-width="2" stroke-linecap="round"/><path d="M918.9 753.3C919.7 752.3 922.8 748.1 923.6 747.0" fill="none" stroke="#e3ebf1" stroke-width="2" stroke-linecap="round"/>
<path d="M801.7 433.7H822.6V458.7H864.6V433.7H885.6V458.7C905 459 923.7 476 923.7 504V617.5L945 639V750.2H880.1V672.6H876.6V708H810.4V672.6H807.1V750.2H743.7V639L764 617.5V504C764 476 782 459 801.7 458.7Z" fill="#cfe2fb"/>
<path d="M756.2 644L765.7 634.4H792.9V736H756.2Z" fill="#1b6df2"/>
<path d="M930.6 644L921.1 634.4H893.9V736H930.6Z" fill="#1b6df2"/>
<rect x="824.4" y="673.1" width="38.1" height="21.5" fill="#1b6df2"/>
<text x="848" y="626" text-anchor="middle" font-size="20" font-weight="900" font-style="italic" fill="#1b6df2" style="font-family:'Liberation Sans','Noto Sans CJK SC',sans-serif">固体核磁</text>
<g transform="translate(843.35 535.55) rotate(37.4)" stroke="#1c1c1c" stroke-width="1.25" stroke-linejoin="round"><ellipse cx="-5" cy="40.5" rx="19" ry="5.5" fill="#9fb0c4" stroke="#6b7d94" stroke-width=".6"/><rect x="-45.3" y="-39.7" width="90.2" height="79.4" fill="#fbfad0"/><rect x="-45.3" y="-36.6" width="26" height="3.6" fill="#cfcdee" stroke-width=".8"/><rect x="-20" y="-37.2" width="40.5" height="8.6" fill="url(#gGold)" stroke-width=".9"/><path d="M20.5 -39.7V-28.6M-20 -39.7V-37" fill="none" stroke-width=".8"/><rect x="-22" y="-28.2" width="41" height="5.6" fill="url(#gLav)" stroke-width=".9"/><rect x="-11" y="-22.6" width="6" height="51" fill="#b9b3d9" stroke-width=".8"/><rect x="-5" y="-22.6" width="12" height="51" fill="#f6f6fb" stroke-width=".8"/><path d="M9.5 -22.6V28.4" stroke-width=".8" fill="none"/><g fill="#f6d9dc" stroke="#a93348" stroke-width="1.1"><ellipse cx="1.2" cy="-15.0" rx="7.6" ry="1.9" transform="rotate(-12 1.2 -15.0)"/><ellipse cx="1.2" cy="-10.4" rx="7.6" ry="1.9" transform="rotate(-12 1.2 -10.4)"/><ellipse cx="1.2" cy="-5.8" rx="7.6" ry="1.9" transform="rotate(-12 1.2 -5.8)"/><ellipse cx="1.2" cy="-1.2" rx="7.6" ry="1.9" transform="rotate(-12 1.2 -1.2)"/><ellipse cx="1.2" cy="3.4" rx="7.6" ry="1.9" transform="rotate(-12 1.2 3.4)"/><ellipse cx="1.2" cy="8.0" rx="7.6" ry="1.9" transform="rotate(-12 1.2 8.0)"/><ellipse cx="1.2" cy="12.6" rx="7.6" ry="1.9" transform="rotate(-12 1.2 12.6)"/><ellipse cx="1.2" cy="17.2" rx="7.6" ry="1.9" transform="rotate(-12 1.2 17.2)"/><ellipse cx="8.5" cy="-18.5" rx="2.2" ry="1.6" fill="#f3b5bd"/></g><rect x="-23" y="27.8" width="43" height="6.2" fill="url(#gLav)" stroke-width=".9"/><rect x="-8" y="34" width="10" height="5.7" fill="#f3f3fb" stroke-width=".8"/><path d="M19 -25.4H24Q31.5 -25.4 31.5 -17V20Q31.5 31 20 31" fill="none" stroke="#1c1c1c" stroke-width="6.2" stroke-linecap="butt"/><path d="M34 0H44.9" fill="none" stroke="#1c1c1c" stroke-width="4.6"/><path d="M19 -25.4H24Q31.5 -25.4 31.5 -17V20Q31.5 31 20 31" fill="none" stroke="#c9c8f1" stroke-width="4.2" stroke-linecap="butt"/><path d="M31 0H44.6" fill="none" stroke="#c9c8f1" stroke-width="2.8"/></g>
</svg>
</body></html>
